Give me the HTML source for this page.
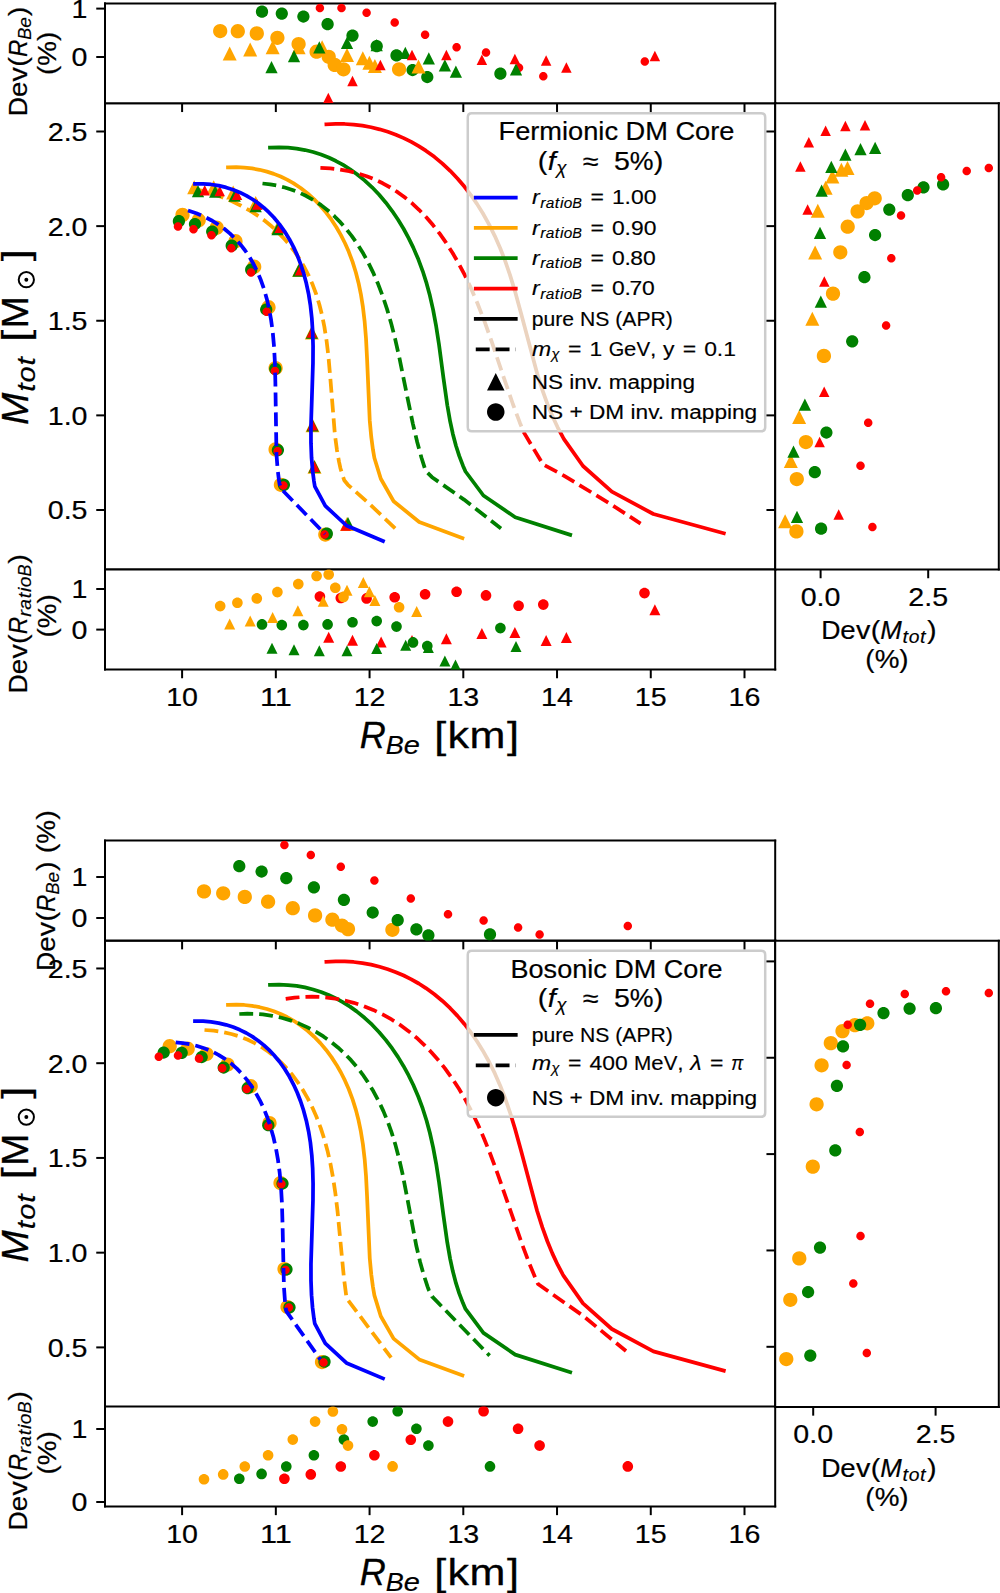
<!DOCTYPE html>
<html><head><meta charset="utf-8"><title>figure</title>
<style>html,body{margin:0;padding:0;background:#fff;overflow:hidden}svg{display:block}</style>
</head><body>
<svg width="1000" height="1593" viewBox="0 0 400 637.2" version="1.1">
 <defs>
  <style type="text/css">*{stroke-linejoin: round; stroke-linecap: butt}</style>
 </defs>
 <g id="figure_1">
  <g id="patch_1">
   <path d="M 0 637.2 
L 400 637.2 
L 400 0 
L 0 0 
z
" style="fill: #ffffff"/>
  </g>
  <g id="axes_1">
   <g id="patch_2">
    <path d="M 42 227.8 
L 310.08 227.8 
L 310.08 41.32 
L 42 41.32 
z
" style="fill: #ffffff"/>
   </g>
   <g id="matplotlib.axis_1">
    <g id="xtick_1">
     <g id="line2d_1">
      <defs>
       <path id="m1504cfccaf" d="M 0 0 
L 0 3.5 
" style="stroke: #000000; stroke-width: 0.8"/>
      </defs>
      <g>
       <use href="#m1504cfccaf" x="72.84" y="227.8" style="stroke: #000000; stroke-width: 0.8"/>
      </g>
     </g>
    </g>
    <g id="xtick_2">
     <g id="line2d_2">
      <g>
       <use href="#m1504cfccaf" x="110.333333" y="227.8" style="stroke: #000000; stroke-width: 0.8"/>
      </g>
     </g>
    </g>
    <g id="xtick_3">
     <g id="line2d_3">
      <g>
       <use href="#m1504cfccaf" x="147.826667" y="227.8" style="stroke: #000000; stroke-width: 0.8"/>
      </g>
     </g>
    </g>
    <g id="xtick_4">
     <g id="line2d_4">
      <g>
       <use href="#m1504cfccaf" x="185.32" y="227.8" style="stroke: #000000; stroke-width: 0.8"/>
      </g>
     </g>
    </g>
    <g id="xtick_5">
     <g id="line2d_5">
      <g>
       <use href="#m1504cfccaf" x="222.813333" y="227.8" style="stroke: #000000; stroke-width: 0.8"/>
      </g>
     </g>
    </g>
    <g id="xtick_6">
     <g id="line2d_6">
      <g>
       <use href="#m1504cfccaf" x="260.306667" y="227.8" style="stroke: #000000; stroke-width: 0.8"/>
      </g>
     </g>
    </g>
    <g id="xtick_7">
     <g id="line2d_7">
      <g>
       <use href="#m1504cfccaf" x="297.8" y="227.8" style="stroke: #000000; stroke-width: 0.8"/>
      </g>
     </g>
    </g>
   </g>
   <g id="matplotlib.axis_2">
    <g id="ytick_1">
     <g id="line2d_8">
      <defs>
       <path id="m5d545ce8f8" d="M 0 0 
L -3.5 0 
" style="stroke: #000000; stroke-width: 0.8"/>
      </defs>
      <g>
       <use href="#m5d545ce8f8" x="42" y="204" style="stroke: #000000; stroke-width: 0.8"/>
      </g>
     </g>
     <g id="text_1">
      <text style="font-size: 10px; font-family: 'Liberation Sans', sans-serif; stroke: #000; stroke-width: 0.080px; text-anchor: end" x="35" y="207.799219" transform="rotate(-0 35 207.799219)" textLength="15.903" lengthAdjust="spacingAndGlyphs">0.5</text>
     </g>
    </g>
    <g id="ytick_2">
     <g id="line2d_9">
      <g>
       <use href="#m5d545ce8f8" x="42" y="166.15" style="stroke: #000000; stroke-width: 0.8"/>
      </g>
     </g>
     <g id="text_2">
      <text style="font-size: 10px; font-family: 'Liberation Sans', sans-serif; stroke: #000; stroke-width: 0.080px; text-anchor: end" x="35" y="169.949219" transform="rotate(-0 35 169.949219)" textLength="15.903" lengthAdjust="spacingAndGlyphs">1.0</text>
     </g>
    </g>
    <g id="ytick_3">
     <g id="line2d_10">
      <g>
       <use href="#m5d545ce8f8" x="42" y="128.3" style="stroke: #000000; stroke-width: 0.8"/>
      </g>
     </g>
     <g id="text_3">
      <text style="font-size: 10px; font-family: 'Liberation Sans', sans-serif; stroke: #000; stroke-width: 0.080px; text-anchor: end" x="35" y="132.099219" transform="rotate(-0 35 132.099219)" textLength="15.903" lengthAdjust="spacingAndGlyphs">1.5</text>
     </g>
    </g>
    <g id="ytick_4">
     <g id="line2d_11">
      <g>
       <use href="#m5d545ce8f8" x="42" y="90.45" style="stroke: #000000; stroke-width: 0.8"/>
      </g>
     </g>
     <g id="text_4">
      <text style="font-size: 10px; font-family: 'Liberation Sans', sans-serif; stroke: #000; stroke-width: 0.080px; text-anchor: end" x="35" y="94.249219" transform="rotate(-0 35 94.249219)" textLength="15.903" lengthAdjust="spacingAndGlyphs">2.0</text>
     </g>
    </g>
    <g id="ytick_5">
     <g id="line2d_12">
      <g>
       <use href="#m5d545ce8f8" x="42" y="52.6" style="stroke: #000000; stroke-width: 0.8"/>
      </g>
     </g>
     <g id="text_5">
      <text style="font-size: 10px; font-family: 'Liberation Sans', sans-serif; stroke: #000; stroke-width: 0.080px; text-anchor: end" x="35" y="56.399219" transform="rotate(-0 35 56.399219)" textLength="15.903" lengthAdjust="spacingAndGlyphs">2.5</text>
     </g>
    </g>
    <g id="text_6">
     <g transform="translate(11.977344 170.035) rotate(-90)">
      <text>
       <tspan x="0" y="-0.609375" style="font-size: 15px; font-family: 'Liberation Sans', sans-serif; stroke: #000; stroke-width: 0.120px; font-style: italic" textLength="12.942" lengthAdjust="spacingAndGlyphs">M</tspan>
       <tspan x="13.3230" y="1.851562" style="font-size: 10.5px; font-family: 'Liberation Sans', sans-serif; stroke: #000; stroke-width: 0.084px; font-style: italic" textLength="3.355" lengthAdjust="spacingAndGlyphs">t</tspan>
       <tspan x="17.058838" y="1.851562" style="font-size: 10.5px; font-family: 'Liberation Sans', sans-serif; stroke: #000; stroke-width: 0.084px; font-style: italic" textLength="6.424" lengthAdjust="spacingAndGlyphs">o</tspan>
       <tspan x="23.8640" y="1.851562" style="font-size: 10.5px; font-family: 'Liberation Sans', sans-serif; stroke: #000; stroke-width: 0.084px; font-style: italic" textLength="3.355" lengthAdjust="spacingAndGlyphs">t</tspan>
       
       <tspan x="33.3079" y="-0.609375" style="font-size: 15px; font-family: 'Liberation Sans', sans-serif; stroke: #000; stroke-width: 0.120px" textLength="4.793" lengthAdjust="spacingAndGlyphs">[</tspan>
       <tspan x="38.630127" y="-0.609375" style="font-size: 15px; font-family: 'Liberation Sans', sans-serif; stroke: #000; stroke-width: 0.120px" textLength="12.942" lengthAdjust="spacingAndGlyphs">M</tspan>
       <tspan x="65.5447" y="-0.609375" style="font-size: 15px; font-family: 'Liberation Sans', sans-serif; stroke: #000; stroke-width: 0.120px" textLength="4.793" lengthAdjust="spacingAndGlyphs">]</tspan>
       </text><circle cx="58.161" cy="-1.445" r="3.050" style="fill:none;stroke:#000;stroke-width:0.787"/><circle cx="58.161" cy="-1.445" r="0.787" style="fill:#000"/>
     </g>
    </g>
   </g>
   <g id="line2d_13">
    <path d="M 91.2 66.96 
L 94.516989 66.892801 
L 97.731461 67.035666 
L 100.841747 67.380417 
L 103.847758 67.919322 
L 106.749406 68.644653 
L 109.546603 69.54868 
L 112.239261 70.623671 
L 114.827292 71.861898 
L 117.310609 73.255629 
L 120.267366 75.204697 
L 123.060198 77.369565 
L 125.688932 79.735136 
L 128.153397 82.286312 
L 130.45342 85.007996 
L 132.588832 87.885089 
L 134.559459 90.902495 
L 136.365129 94.045114 
L 138.005672 97.29785 
L 139.480916 100.645604 
L 141.032771 104.767077 
L 142.347706 108.978674 
L 143.441529 113.265274 
L 144.337497 117.616827 
L 145.163837 122.762384 
L 145.864838 128.714217 
L 146.409219 135.472453 
L 146.834213 143.774721 
L 147.907551 168.365887 
L 148.508276 174.83572 
L 149.165514 179.755264 
L 149.76 183.2 
L 152.32 191.52 
L 157.44 200.48 
L 167.68 208.8 
L 184.96 215.2 
L 184.96 215.2 
" clip-path="url(#p4665e097e5)" style="fill: none; stroke: #ffa500; stroke-width: 1.5; stroke-linecap: square"/>
   </g>
   <g id="line2d_14">
    <path d="M 76.4 75.2 
L 80.549455 76.180734 
L 84.654212 77.38028 
L 88.690091 78.799094 
L 92.63376 80.436771 
L 96.461887 82.292905 
L 100.151141 84.36709 
L 103.102603 86.261853 
L 105.927921 88.307524 
L 108.613621 90.503847 
L 111.149915 92.847802 
L 113.534262 95.330937 
L 115.764964 97.944165 
L 117.840322 100.678401 
L 119.75864 103.524558 
L 121.518219 106.473551 
L 123.41779 110.135292 
L 125.083399 113.916331 
L 126.51571 117.801561 
L 127.732444 121.778694 
L 128.756377 125.836277 
L 129.737668 130.656521 
L 130.622159 136.257033 
L 131.379584 142.642023 
L 132.071893 150.512842 
L 133.960529 173.88699 
L 134.778658 180.022664 
L 135.601215 184.67551 
L 136.16 187.28 
L 137.68 192.12 
L 139.16 193.92 
L 148 201.76 
L 159.36 212.64 
L 159.36 212.64 
" clip-path="url(#p4665e097e5)" style="fill: none; stroke-dasharray: 5.55,2.4; stroke-dashoffset: 0; stroke: #ffa500; stroke-width: 1.5"/>
   </g>
   <g id="line2d_15">
    <path d="M 108 59 
L 111.646294 58.907071 
L 115.195434 59.051491 
L 118.646 59.424375 
L 121.997603 60.016974 
L 125.249852 60.820539 
L 128.402358 61.826318 
L 131.45473 63.025564 
L 134.406578 64.409527 
L 137.257514 65.969456 
L 140.007146 67.696603 
L 142.655085 69.582217 
L 145.821408 72.148751 
L 148.827465 74.93213 
L 151.672494 77.915266 
L 154.355733 81.08107 
L 156.876421 84.412452 
L 159.233796 87.892324 
L 161.427096 91.503596 
L 163.45556 95.22918 
L 165.318426 99.051986 
L 167.334205 103.743626 
L 169.109109 108.521129 
L 170.643348 113.356019 
L 171.95594 118.232861 
L 173.249468 123.966673 
L 174.476268 130.565228 
L 175.626221 138.028405 
L 177.394054 151.334287 
L 178.923231 162.109322 
L 180.078001 168.686258 
L 181.136446 173.570333 
L 182.417033 178.39791 
L 183.691056 182.368112 
L 185.184949 186.282101 
L 186.2 188.6 
L 193.36 198.2 
L 206.08 206.88 
L 228.08 213.92 
L 228.08 213.92 
" clip-path="url(#p4665e097e5)" style="fill: none; stroke: #008000; stroke-width: 1.5; stroke-linecap: square"/>
   </g>
   <g id="line2d_16">
    <path d="M 105 73.4 
L 108.084751 73.75393 
L 111.061561 74.288235 
L 113.931558 74.995605 
L 116.696446 75.868774 
L 119.357929 76.900476 
L 122.541966 78.401974 
L 125.570425 80.125637 
L 128.446634 82.057275 
L 131.173921 84.182698 
L 133.755616 86.487716 
L 136.195047 88.958138 
L 138.495542 91.579773 
L 140.66043 94.338431 
L 143.083982 97.809711 
L 145.322804 101.433348 
L 147.382648 105.184823 
L 149.269267 109.039612 
L 151.259425 113.635396 
L 153.039113 118.314565 
L 154.846508 123.749503 
L 156.447422 129.261772 
L 158.047319 135.534979 
L 159.787102 143.272557 
L 162.219591 155.288248 
L 165.107118 169.323258 
L 166.902597 176.908064 
L 168.567052 183.004195 
L 170.24 188.32 
L 172.8 190.88 
L 185.6 199.84 
L 200.4 211.36 
L 200.4 211.36 
" clip-path="url(#p4665e097e5)" style="fill: none; stroke-dasharray: 5.55,2.4; stroke-dashoffset: 0; stroke: #008000; stroke-width: 1.5"/>
   </g>
   <g id="under_solid_0">
    <path d="M 130.56 49.76 
L 134.251221 49.572934 
L 137.891013 49.599864 
L 141.473183 49.834877 
L 144.992948 50.271593 
L 148.445525 50.903632 
L 151.82613 51.724617 
L 155.129979 52.728167 
L 158.35229 53.907903 
L 161.488278 55.257448 
L 164.53316 56.770421 
L 167.482152 58.440443 
L 170.330472 60.261136 
L 173.742528 62.73908 
L 176.987893 65.428787 
L 180.068461 68.315937 
L 182.986206 71.386194 
L 185.743103 74.62522 
L 188.341127 78.018681 
L 190.782254 81.552241 
L 193.068458 85.211564 
L 195.610185 89.748573 
L 197.935079 94.421264 
L 200.046554 99.204864 
L 201.952362 104.076207 
L 203.951737 109.848863 
L 206.002988 116.536303 
L 208.326654 124.981129 
L 214.856832 149.422019 
L 216.944472 155.997985 
L 218.985848 161.641973 
L 220.935206 166.379903 
L 223.102326 171.010641 
L 225.097506 174.777389 
L 225.52 175.52 
L 233.2 186.4 
L 244.72 196.64 
L 261.36 205.6 
L 289.52 213.28 
L 289.52 213.28 
" clip-path="url(#p4665e097e5)" style="fill: none; stroke: #ff0000; stroke-width: 1.5; stroke-linecap: square"/>
   </g>
   <g id="under_dashed_0">
    <path d="M 128.16 67.16 
L 132.138564 67.359959 
L 135.974845 67.802354 
L 139.670512 68.477303 
L 143.228599 69.3752 
L 146.65214 70.486441 
L 149.944168 71.801418 
L 153.107718 73.310527 
L 156.145821 75.004161 
L 159.061512 76.872715 
L 161.857825 78.906583 
L 164.537792 81.09616 
L 167.604449 83.915662 
L 170.51318 86.928953 
L 173.269225 90.119434 
L 175.877828 93.470506 
L 178.34423 96.965572 
L 181.048966 101.202994 
L 183.575611 105.587456 
L 185.932487 110.092598 
L 188.429489 115.355916 
L 191.016262 121.389461 
L 193.665762 128.197461 
L 196.615489 136.455631 
L 201.245991 150.249964 
L 205.211939 161.794364 
L 207.94193 169.074547 
L 209.52 172.96 
L 217.2 185.76 
L 225.52 190.24 
L 243.44 201.12 
L 256.24 209.44 
L 256.24 209.44 
" clip-path="url(#p4665e097e5)" style="fill: none; stroke-dasharray: 5.55,2.4; stroke-dashoffset: 0; stroke: #ff0000; stroke-width: 1.5"/>
   </g>
   <g id="patch_3">
    <path d="M 42 227.8 
L 42 41.32 
" style="fill: none; stroke: #000000; stroke-width: 0.8; stroke-linejoin: miter; stroke-linecap: square"/>
   </g>
   <g id="patch_4">
    <path d="M 310.08 227.8 
L 310.08 41.32 
" style="fill: none; stroke: #000000; stroke-width: 0.8; stroke-linejoin: miter; stroke-linecap: square"/>
   </g>
   <g id="patch_5">
    <path d="M 42 227.8 
L 310.08 227.8 
" style="fill: none; stroke: #000000; stroke-width: 0.8; stroke-linejoin: miter; stroke-linecap: square"/>
   </g>
   <g id="patch_6">
    <path d="M 42 41.32 
L 310.08 41.32 
" style="fill: none; stroke: #000000; stroke-width: 0.8; stroke-linejoin: miter; stroke-linecap: square"/>
   </g>
   <g id="line2d_17">
    <defs>
     <path id="mb5287e0153" d="M 0 2.85 
C 0.755829 2.85 1.480803 2.549706 2.015254 2.015254 
C 2.549706 1.480803 2.85 0.755829 2.85 0 
C 2.85 -0.755829 2.549706 -1.480803 2.015254 -2.015254 
C 1.480803 -2.549706 0.755829 -2.85 0 -2.85 
C -0.755829 -2.85 -1.480803 -2.549706 -2.015254 -2.015254 
C -2.549706 -1.480803 -2.85 -0.755829 -2.85 0 
C -2.85 0.755829 -2.549706 1.480803 -2.015254 2.015254 
C -1.480803 2.549706 -0.755829 2.85 0 2.85 
z
" style="stroke: #000000; stroke-opacity: 0"/>
    </defs>
    <g clip-path="url(#p4665e097e5)">
     <use href="#mb5287e0153" x="73" y="85.96" style="fill: #ffa500; stroke: #000000; stroke-opacity: 0"/>
     <use href="#mb5287e0153" x="79.48" y="88.08" style="fill: #ffa500; stroke: #000000; stroke-opacity: 0"/>
     <use href="#mb5287e0153" x="86.68" y="91.08" style="fill: #ffa500; stroke: #000000; stroke-opacity: 0"/>
     <use href="#mb5287e0153" x="94.2" y="96.48" style="fill: #ffa500; stroke: #000000; stroke-opacity: 0"/>
     <use href="#mb5287e0153" x="101.68" y="106.68" style="fill: #ffa500; stroke: #000000; stroke-opacity: 0"/>
     <use href="#mb5287e0153" x="107.4" y="122.88" style="fill: #ffa500; stroke: #000000; stroke-opacity: 0"/>
     <use href="#mb5287e0153" x="110.24" y="147.2" style="fill: #ffa500; stroke: #000000; stroke-opacity: 0"/>
     <use href="#mb5287e0153" x="110.24" y="179.76" style="fill: #ffa500; stroke: #000000; stroke-opacity: 0"/>
     <use href="#mb5287e0153" x="112.36" y="193.92" style="fill: #ffa500; stroke: #000000; stroke-opacity: 0"/>
     <use href="#mb5287e0153" x="130.12" y="213.8" style="fill: #ffa500; stroke: #000000; stroke-opacity: 0"/>
    </g>
   </g>
   <g id="line2d_18">
    <defs>
     <path id="mbd43150556" d="M 0 2.45 
C 0.649748 2.45 1.272971 2.191853 1.732412 1.732412 
C 2.191853 1.272971 2.45 0.649748 2.45 0 
C 2.45 -0.649748 2.191853 -1.272971 1.732412 -1.732412 
C 1.272971 -2.191853 0.649748 -2.45 0 -2.45 
C -0.649748 -2.45 -1.272971 -2.191853 -1.732412 -1.732412 
C -2.191853 -1.272971 -2.45 -0.649748 -2.45 0 
C -2.45 0.649748 -2.191853 1.272971 -1.732412 1.732412 
C -1.272971 2.191853 -0.649748 2.45 0 2.45 
z
" style="stroke: #000000; stroke-opacity: 0"/>
    </defs>
    <g clip-path="url(#p4665e097e5)">
     <use href="#mbd43150556" x="71.56" y="88.48" style="fill: #008000; stroke: #000000; stroke-opacity: 0"/>
     <use href="#mbd43150556" x="78" y="89.6" style="fill: #008000; stroke: #000000; stroke-opacity: 0"/>
     <use href="#mbd43150556" x="84.88" y="92.6" style="fill: #008000; stroke: #000000; stroke-opacity: 0"/>
     <use href="#mbd43150556" x="92.68" y="98.28" style="fill: #008000; stroke: #000000; stroke-opacity: 0"/>
     <use href="#mbd43150556" x="100.48" y="107.88" style="fill: #008000; stroke: #000000; stroke-opacity: 0"/>
     <use href="#mbd43150556" x="106.48" y="123.8" style="fill: #008000; stroke: #000000; stroke-opacity: 0"/>
     <use href="#mbd43150556" x="110.12" y="147.52" style="fill: #008000; stroke: #000000; stroke-opacity: 0"/>
     <use href="#mbd43150556" x="111.16" y="180.04" style="fill: #008000; stroke: #000000; stroke-opacity: 0"/>
     <use href="#mbd43150556" x="113.56" y="193.92" style="fill: #008000; stroke: #000000; stroke-opacity: 0"/>
     <use href="#mbd43150556" x="130.72" y="213.48" style="fill: #008000; stroke: #000000; stroke-opacity: 0"/>
    </g>
   </g>
   <g id="line2d_19">
    <defs>
     <path id="m608933609a" d="M 0 1.7 
C 0.450845 1.7 0.883286 1.520877 1.202082 1.202082 
C 1.520877 0.883286 1.7 0.450845 1.7 0 
C 1.7 -0.450845 1.520877 -0.883286 1.202082 -1.202082 
C 0.883286 -1.520877 0.450845 -1.7 0 -1.7 
C -0.450845 -1.7 -0.883286 -1.520877 -1.202082 -1.202082 
C -1.520877 -0.883286 -1.7 -0.450845 -1.7 0 
C -1.7 0.450845 -1.520877 0.883286 -1.202082 1.202082 
C -0.883286 1.520877 -0.450845 1.7 0 1.7 
z
" style="stroke: #000000; stroke-opacity: 0"/>
    </defs>
    <g clip-path="url(#p4665e097e5)">
     <use href="#m608933609a" x="71.2" y="90.64" style="fill: #ff0000; stroke: #000000; stroke-opacity: 0"/>
     <use href="#m608933609a" x="77.4" y="91.68" style="fill: #ff0000; stroke: #000000; stroke-opacity: 0"/>
     <use href="#m608933609a" x="84.6" y="94.08" style="fill: #ff0000; stroke: #000000; stroke-opacity: 0"/>
     <use href="#m608933609a" x="92.52" y="99.32" style="fill: #ff0000; stroke: #000000; stroke-opacity: 0"/>
     <use href="#m608933609a" x="100.4" y="108.96" style="fill: #ff0000; stroke: #000000; stroke-opacity: 0"/>
     <use href="#m608933609a" x="106.68" y="124.68" style="fill: #ff0000; stroke: #000000; stroke-opacity: 0"/>
     <use href="#m608933609a" x="109.96" y="148.4" style="fill: #ff0000; stroke: #000000; stroke-opacity: 0"/>
     <use href="#m608933609a" x="111.04" y="180.48" style="fill: #ff0000; stroke: #000000; stroke-opacity: 0"/>
     <use href="#m608933609a" x="113.36" y="194.2" style="fill: #ff0000; stroke: #000000; stroke-opacity: 0"/>
     <use href="#m608933609a" x="129.84" y="213.8" style="fill: #ff0000; stroke: #000000; stroke-opacity: 0"/>
    </g>
   </g>
   <g id="line2d_20">
    <defs>
     <path id="m29fc046956" d="M 0 -2.8 
L -2.8 2.8 
L 2.8 2.8 
z
" style="stroke: #000000; stroke-opacity: 0; stroke-linejoin: miter"/>
    </defs>
    <g clip-path="url(#p4665e097e5)">
     <use href="#m29fc046956" x="77.68" y="74.88" style="fill: #ffa500; stroke: #000000; stroke-opacity: 0; stroke-linejoin: miter"/>
     <use href="#m29fc046956" x="85.48" y="74.88" style="fill: #ffa500; stroke: #000000; stroke-opacity: 0; stroke-linejoin: miter"/>
     <use href="#m29fc046956" x="93.28" y="77" style="fill: #ffa500; stroke: #000000; stroke-opacity: 0; stroke-linejoin: miter"/>
     <use href="#m29fc046956" x="102.28" y="81.2" style="fill: #ffa500; stroke: #000000; stroke-opacity: 0; stroke-linejoin: miter"/>
     <use href="#m29fc046956" x="111.28" y="90.8" style="fill: #ffa500; stroke: #000000; stroke-opacity: 0; stroke-linejoin: miter"/>
     <use href="#m29fc046956" x="119.68" y="107.88" style="fill: #ffa500; stroke: #000000; stroke-opacity: 0; stroke-linejoin: miter"/>
     <use href="#m29fc046956" x="124.72" y="133.04" style="fill: #ffa500; stroke: #000000; stroke-opacity: 0; stroke-linejoin: miter"/>
     <use href="#m29fc046956" x="125" y="170.12" style="fill: #ffa500; stroke: #000000; stroke-opacity: 0; stroke-linejoin: miter"/>
     <use href="#m29fc046956" x="125.8" y="186.68" style="fill: #ffa500; stroke: #000000; stroke-opacity: 0; stroke-linejoin: miter"/>
     <use href="#m29fc046956" x="138.8" y="209.6" style="fill: #ffa500; stroke: #000000; stroke-opacity: 0; stroke-linejoin: miter"/>
    </g>
   </g>
   <g id="line2d_21">
    <defs>
     <path id="mc2b58c1543" d="M 0 -2.45 
L -2.45 2.45 
L 2.45 2.45 
z
" style="stroke: #000000; stroke-opacity: 0; stroke-linejoin: miter"/>
    </defs>
    <g clip-path="url(#p4665e097e5)">
     <use href="#mc2b58c1543" x="79.2" y="76.4" style="fill: #008000; stroke: #000000; stroke-opacity: 0; stroke-linejoin: miter"/>
     <use href="#mc2b58c1543" x="86.08" y="76.68" style="fill: #008000; stroke: #000000; stroke-opacity: 0; stroke-linejoin: miter"/>
     <use href="#mc2b58c1543" x="93.88" y="78.2" style="fill: #008000; stroke: #000000; stroke-opacity: 0; stroke-linejoin: miter"/>
     <use href="#mc2b58c1543" x="102.28" y="82.4" style="fill: #008000; stroke: #000000; stroke-opacity: 0; stroke-linejoin: miter"/>
     <use href="#mc2b58c1543" x="111" y="91.68" style="fill: #008000; stroke: #000000; stroke-opacity: 0; stroke-linejoin: miter"/>
     <use href="#mc2b58c1543" x="119.4" y="108.2" style="fill: #008000; stroke: #000000; stroke-opacity: 0; stroke-linejoin: miter"/>
     <use href="#mc2b58c1543" x="124.72" y="133.04" style="fill: #008000; stroke: #000000; stroke-opacity: 0; stroke-linejoin: miter"/>
     <use href="#mc2b58c1543" x="125" y="170.12" style="fill: #008000; stroke: #000000; stroke-opacity: 0; stroke-linejoin: miter"/>
     <use href="#mc2b58c1543" x="125.8" y="186.68" style="fill: #008000; stroke: #000000; stroke-opacity: 0; stroke-linejoin: miter"/>
     <use href="#mc2b58c1543" x="139.2" y="209.28" style="fill: #008000; stroke: #000000; stroke-opacity: 0; stroke-linejoin: miter"/>
    </g>
   </g>
   <g id="line2d_22">
    <defs>
     <path id="m9a5f237e75" d="M 0 -2.1 
L -2.1 2.1 
L 2.1 2.1 
z
" style="stroke: #000000; stroke-opacity: 0; stroke-linejoin: miter"/>
    </defs>
    <g clip-path="url(#p4665e097e5)">
     <use href="#m9a5f237e75" x="81.88" y="76.08" style="fill: #ff0000; stroke: #000000; stroke-opacity: 0; stroke-linejoin: miter"/>
     <use href="#m9a5f237e75" x="87.88" y="76.4" style="fill: #ff0000; stroke: #000000; stroke-opacity: 0; stroke-linejoin: miter"/>
     <use href="#m9a5f237e75" x="94.8" y="77.88" style="fill: #ff0000; stroke: #000000; stroke-opacity: 0; stroke-linejoin: miter"/>
     <use href="#m9a5f237e75" x="102.88" y="81.8" style="fill: #ff0000; stroke: #000000; stroke-opacity: 0; stroke-linejoin: miter"/>
     <use href="#m9a5f237e75" x="111.88" y="91.08" style="fill: #ff0000; stroke: #000000; stroke-opacity: 0; stroke-linejoin: miter"/>
     <use href="#m9a5f237e75" x="120" y="108.08" style="fill: #ff0000; stroke: #000000; stroke-opacity: 0; stroke-linejoin: miter"/>
     <use href="#m9a5f237e75" x="124.72" y="133.04" style="fill: #ff0000; stroke: #000000; stroke-opacity: 0; stroke-linejoin: miter"/>
     <use href="#m9a5f237e75" x="125" y="170.12" style="fill: #ff0000; stroke: #000000; stroke-opacity: 0; stroke-linejoin: miter"/>
     <use href="#m9a5f237e75" x="125.8" y="186.68" style="fill: #ff0000; stroke: #000000; stroke-opacity: 0; stroke-linejoin: miter"/>
     <use href="#m9a5f237e75" x="138.28" y="210.2" style="fill: #ff0000; stroke: #000000; stroke-opacity: 0; stroke-linejoin: miter"/>
    </g>
   </g>
   <g id="line2d_23">
    <path d="M 78 73.52 
L 81.269992 73.537542 
L 84.43075 73.792165 
L 87.478659 74.272734 
L 90.412032 74.968706 
L 93.229182 75.869538 
L 95.928423 76.964687 
L 98.508068 78.243609 
L 100.966429 79.695762 
L 103.301821 81.310602 
L 105.512556 83.077585 
L 107.596948 84.98617 
L 109.55331 87.025812 
L 111.816422 89.743723 
L 113.878772 92.631654 
L 115.745936 95.672941 
L 117.42361 98.850971 
L 118.917493 102.149135 
L 120.233281 105.550819 
L 121.376673 109.039414 
L 122.529201 113.31706 
L 123.451529 117.667233 
L 124.154666 122.062963 
L 124.725828 127.232531 
L 125.067061 132.438072 
L 125.227275 138.420065 
L 125.186585 145.175983 
L 124.883112 154.946909 
L 124.384176 170.630801 
L 124.394766 177.265223 
L 124.618584 183.096522 
L 125.029384 188.137242 
L 125.573309 192.405073 
L 125.92 194.52 
L 130.12 202.36 
L 138.56 210.2 
L 153.2 216.4 
L 153.2 216.4 
" clip-path="url(#p4665e097e5)" style="fill: none; stroke: #0000ff; stroke-width: 1.5; stroke-linecap: square"/>
   </g>
   <g id="line2d_24">
    <path d="M 75.2 84.2 
L 78.503573 85.314723 
L 81.600213 86.614027 
L 84.494917 88.087558 
L 87.193946 89.726459 
L 89.70356 91.521872 
L 92.030021 93.464941 
L 94.179589 95.546808 
L 96.158526 97.758617 
L 97.973092 100.091511 
L 99.629549 102.536631 
L 101.417408 105.606445 
L 102.997424 108.809807 
L 104.380416 112.131412 
L 105.577204 115.555955 
L 106.752563 119.660971 
L 107.708281 123.864663 
L 108.466967 128.15332 
L 109.122291 133.142092 
L 109.63061 138.842883 
L 109.968485 145.254663 
L 110.150131 153.005149 
L 110.578278 181.536997 
L 111.031171 187.53166 
L 111.588581 192.179858 
L 111.76 193.32 
L 112.64 195.72 
L 130 213.6 
L 130 213.6 
" clip-path="url(#p4665e097e5)" style="fill: none; stroke-dasharray: 5.55,2.4; stroke-dashoffset: 0; stroke: #0000ff; stroke-width: 1.5"/>
   </g>
   <g id="legend_1">
    <g id="legframe_0">
     <path d="M 188.70625 172.486375 
L 304.48 172.486375 
Q 306.08 172.486375 306.08 170.886375 
L 306.08 46.92 
Q 306.08 45.32 304.48 45.32 
L 188.70625 45.32 
Q 187.10625 45.32 187.10625 46.92 
L 187.10625 170.886375 
Q 187.10625 172.486375 188.70625 172.486375 
z
" style="fill: #ffffff; stroke: #cccccc; stroke-linejoin: miter"/>
    </g>
<defs><clipPath id="legclip_0"><path d="M 188.70625 172.486375 
L 304.48 172.486375 
Q 306.08 172.486375 306.08 170.886375 
L 306.08 46.92 
Q 306.08 45.32 304.48 45.32 
L 188.70625 45.32 
Q 187.10625 45.32 187.10625 46.92 
L 187.10625 170.886375 
Q 187.10625 172.486375 188.70625 172.486375 
z
"/></clipPath></defs>
<path d="M 130.56 49.76 
L 134.251221 49.572934 
L 137.891013 49.599864 
L 141.473183 49.834877 
L 144.992948 50.271593 
L 148.445525 50.903632 
L 151.82613 51.724617 
L 155.129979 52.728167 
L 158.35229 53.907903 
L 161.488278 55.257448 
L 164.53316 56.770421 
L 167.482152 58.440443 
L 170.330472 60.261136 
L 173.742528 62.73908 
L 176.987893 65.428787 
L 180.068461 68.315937 
L 182.986206 71.386194 
L 185.743103 74.62522 
L 188.341127 78.018681 
L 190.782254 81.552241 
L 193.068458 85.211564 
L 195.610185 89.748573 
L 197.935079 94.421264 
L 200.046554 99.204864 
L 201.952362 104.076207 
L 203.951737 109.848863 
L 206.002988 116.536303 
L 208.326654 124.981129 
L 214.856832 149.422019 
L 216.944472 155.997985 
L 218.985848 161.641973 
L 220.935206 166.379903 
L 223.102326 171.010641 
L 225.097506 174.777389 
L 225.52 175.52 
L 233.2 186.4 
L 244.72 196.64 
L 261.36 205.6 
L 289.52 213.28 
L 289.52 213.28 
" clip-path="url(#legclip_0)" style="fill: none; stroke: #ebd3bf; stroke-width: 1.5; stroke-linecap: square"/>
<path d="M 128.16 67.16 
L 132.138564 67.359959 
L 135.974845 67.802354 
L 139.670512 68.477303 
L 143.228599 69.3752 
L 146.65214 70.486441 
L 149.944168 71.801418 
L 153.107718 73.310527 
L 156.145821 75.004161 
L 159.061512 76.872715 
L 161.857825 78.906583 
L 164.537792 81.09616 
L 167.604449 83.915662 
L 170.51318 86.928953 
L 173.269225 90.119434 
L 175.877828 93.470506 
L 178.34423 96.965572 
L 181.048966 101.202994 
L 183.575611 105.587456 
L 185.932487 110.092598 
L 188.429489 115.355916 
L 191.016262 121.389461 
L 193.665762 128.197461 
L 196.615489 136.455631 
L 201.245991 150.249964 
L 205.211939 161.794364 
L 207.94193 169.074547 
L 209.52 172.96 
L 217.2 185.76 
L 225.52 190.24 
L 243.44 201.12 
L 256.24 209.44 
L 256.24 209.44 
" clip-path="url(#legclip_0)" style="fill: none; stroke-dasharray: 5.55,2.4; stroke-dashoffset: 0; stroke: #ebd3bf; stroke-width: 1.5"/>

    <g id="text_7">
     <text style="font-size: 10px; font-family: 'Liberation Sans', sans-serif; stroke: #000; stroke-width: 0.080px" transform="translate(199.409531 56.118438)" textLength="94.375" lengthAdjust="spacingAndGlyphs">Fermionic DM Core</text>
     <g transform="translate(215.043125 68.230125)">
      <text>
       <tspan x="0.0359" y="-0.40625" style="font-size: 10px; font-family: 'Liberation Sans', sans-serif; stroke: #000; stroke-width: 0.080px" textLength="3.830" lengthAdjust="spacingAndGlyphs">(</tspan>
       <tspan x="18.0669" y="-0.40625" style="font-size: 10px; font-family: 'Liberation Sans', sans-serif; stroke: #000; stroke-width: 0.080px" textLength="6.312" lengthAdjust="spacingAndGlyphs">≈</tspan>
       
       <tspan x="30.53903" y="-0.40625" style="font-size: 10px; font-family: 'Liberation Sans', sans-serif; stroke: #000; stroke-width: 0.080px" textLength="6.362" lengthAdjust="spacingAndGlyphs">5</tspan>
       <tspan x="36.901335" y="-0.40625" style="font-size: 10px; font-family: 'Liberation Sans', sans-serif; stroke: #000; stroke-width: 0.080px" textLength="9.502" lengthAdjust="spacingAndGlyphs">%</tspan>
       <tspan x="46.4392" y="-0.40625" style="font-size: 10px; font-family: 'Liberation Sans', sans-serif; stroke: #000; stroke-width: 0.080px" textLength="3.830" lengthAdjust="spacingAndGlyphs">)</tspan>
       
       
       
       
       <tspan x="4.0641" y="-0.40625" style="font-size: 10px; font-family: 'Liberation Sans', sans-serif; stroke: #000; stroke-width: 0.080px; font-style: italic" textLength="3.195" lengthAdjust="spacingAndGlyphs">f</tspan>
       <tspan x="7.421875" y="1.234375" style="font-size: 7px; font-family: 'Liberation Sans', sans-serif; stroke: #000; stroke-width: 0.056px; font-style: italic" textLength="4.143" lengthAdjust="spacingAndGlyphs">χ</tspan>
      </text>
     </g>
    </g>
    <g id="line2d_25">
     <path d="M 190.30625 79.008875 
L 198.30625 79.008875 
L 206.30625 79.008875 
" style="fill: none; stroke: #0000ff; stroke-width: 1.5; stroke-linecap: square"/>
    </g>
    <g id="text_8">
     <g transform="translate(212.70625 81.808875)">
      <text>
       <tspan x="0.1127" y="-0.0625" style="font-size: 8px; font-family: 'Liberation Sans', sans-serif; stroke: #000; stroke-width: 0.064px; font-style: italic" textLength="3.064" lengthAdjust="spacingAndGlyphs">r</tspan>
       <tspan x="3.3679" y="1.25" style="font-size: 5.6px; font-family: 'Liberation Sans', sans-serif; stroke: #000; stroke-width: 0.045px; font-style: italic" textLength="2.145" lengthAdjust="spacingAndGlyphs">r</tspan>
       <tspan x="5.591406" y="1.25" style="font-size: 5.6px; font-family: 'Liberation Sans', sans-serif; stroke: #000; stroke-width: 0.045px; font-style: italic" textLength="3.432" lengthAdjust="spacingAndGlyphs">a</tspan>
       <tspan x="9.2263" y="1.25" style="font-size: 5.6px; font-family: 'Liberation Sans', sans-serif; stroke: #000; stroke-width: 0.045px; font-style: italic" textLength="1.789" lengthAdjust="spacingAndGlyphs">t</tspan>
       <tspan x="11.2813" y="1.25" style="font-size: 5.6px; font-family: 'Liberation Sans', sans-serif; stroke: #000; stroke-width: 0.045px; font-style: italic" textLength="1.431" lengthAdjust="spacingAndGlyphs">i</tspan>
       <tspan x="12.774609" y="1.25" style="font-size: 5.6px; font-family: 'Liberation Sans', sans-serif; stroke: #000; stroke-width: 0.045px; font-style: italic" textLength="3.426" lengthAdjust="spacingAndGlyphs">o</tspan>
       <tspan x="16.200781" y="1.25" style="font-size: 5.6px; font-family: 'Liberation Sans', sans-serif; stroke: #000; stroke-width: 0.045px; font-style: italic" textLength="3.842" lengthAdjust="spacingAndGlyphs">B</tspan>
       
       <tspan x="23.4695" y="-0.0625" style="font-size: 8px; font-family: 'Liberation Sans', sans-serif; stroke: #000; stroke-width: 0.064px" textLength="5.373" lengthAdjust="spacingAndGlyphs">=</tspan>
       
       <tspan x="32.050391" y="-0.0625" style="font-size: 8px; font-family: 'Liberation Sans', sans-serif; stroke: #000; stroke-width: 0.064px" textLength="5.090" lengthAdjust="spacingAndGlyphs">1</tspan>
       <tspan x="37.140234" y="-0.0625" style="font-size: 8px; font-family: 'Liberation Sans', sans-serif; stroke: #000; stroke-width: 0.064px" textLength="2.543" lengthAdjust="spacingAndGlyphs">.</tspan>
       <tspan x="39.683203" y="-0.0625" style="font-size: 8px; font-family: 'Liberation Sans', sans-serif; stroke: #000; stroke-width: 0.064px" textLength="5.090" lengthAdjust="spacingAndGlyphs">0</tspan>
       <tspan x="44.773047" y="-0.0625" style="font-size: 8px; font-family: 'Liberation Sans', sans-serif; stroke: #000; stroke-width: 0.064px" textLength="5.090" lengthAdjust="spacingAndGlyphs">0</tspan>
      </text>
     </g>
    </g>
    <g id="line2d_26">
     <path d="M 190.30625 91.151375 
L 198.30625 91.151375 
L 206.30625 91.151375 
" style="fill: none; stroke: #ffa500; stroke-width: 1.5; stroke-linecap: square"/>
    </g>
    <g id="text_9">
     <g transform="translate(212.70625 93.951375)">
      <text>
       <tspan x="0.1127" y="-0.0625" style="font-size: 8px; font-family: 'Liberation Sans', sans-serif; stroke: #000; stroke-width: 0.064px; font-style: italic" textLength="3.064" lengthAdjust="spacingAndGlyphs">r</tspan>
       <tspan x="3.3679" y="1.25" style="font-size: 5.6px; font-family: 'Liberation Sans', sans-serif; stroke: #000; stroke-width: 0.045px; font-style: italic" textLength="2.145" lengthAdjust="spacingAndGlyphs">r</tspan>
       <tspan x="5.591406" y="1.25" style="font-size: 5.6px; font-family: 'Liberation Sans', sans-serif; stroke: #000; stroke-width: 0.045px; font-style: italic" textLength="3.432" lengthAdjust="spacingAndGlyphs">a</tspan>
       <tspan x="9.2263" y="1.25" style="font-size: 5.6px; font-family: 'Liberation Sans', sans-serif; stroke: #000; stroke-width: 0.045px; font-style: italic" textLength="1.789" lengthAdjust="spacingAndGlyphs">t</tspan>
       <tspan x="11.2813" y="1.25" style="font-size: 5.6px; font-family: 'Liberation Sans', sans-serif; stroke: #000; stroke-width: 0.045px; font-style: italic" textLength="1.431" lengthAdjust="spacingAndGlyphs">i</tspan>
       <tspan x="12.774609" y="1.25" style="font-size: 5.6px; font-family: 'Liberation Sans', sans-serif; stroke: #000; stroke-width: 0.045px; font-style: italic" textLength="3.426" lengthAdjust="spacingAndGlyphs">o</tspan>
       <tspan x="16.200781" y="1.25" style="font-size: 5.6px; font-family: 'Liberation Sans', sans-serif; stroke: #000; stroke-width: 0.045px; font-style: italic" textLength="3.842" lengthAdjust="spacingAndGlyphs">B</tspan>
       
       <tspan x="23.4695" y="-0.0625" style="font-size: 8px; font-family: 'Liberation Sans', sans-serif; stroke: #000; stroke-width: 0.064px" textLength="5.373" lengthAdjust="spacingAndGlyphs">=</tspan>
       
       <tspan x="32.050391" y="-0.0625" style="font-size: 8px; font-family: 'Liberation Sans', sans-serif; stroke: #000; stroke-width: 0.064px" textLength="5.090" lengthAdjust="spacingAndGlyphs">0</tspan>
       <tspan x="37.140234" y="-0.0625" style="font-size: 8px; font-family: 'Liberation Sans', sans-serif; stroke: #000; stroke-width: 0.064px" textLength="2.543" lengthAdjust="spacingAndGlyphs">.</tspan>
       <tspan x="39.683203" y="-0.0625" style="font-size: 8px; font-family: 'Liberation Sans', sans-serif; stroke: #000; stroke-width: 0.064px" textLength="5.090" lengthAdjust="spacingAndGlyphs">9</tspan>
       <tspan x="44.773047" y="-0.0625" style="font-size: 8px; font-family: 'Liberation Sans', sans-serif; stroke: #000; stroke-width: 0.064px" textLength="5.090" lengthAdjust="spacingAndGlyphs">0</tspan>
      </text>
     </g>
    </g>
    <g id="line2d_27">
     <path d="M 190.30625 103.293875 
L 198.30625 103.293875 
L 206.30625 103.293875 
" style="fill: none; stroke: #008000; stroke-width: 1.5; stroke-linecap: square"/>
    </g>
    <g id="text_10">
     <g transform="translate(212.70625 106.093875)">
      <text>
       <tspan x="0.1127" y="-0.0625" style="font-size: 8px; font-family: 'Liberation Sans', sans-serif; stroke: #000; stroke-width: 0.064px; font-style: italic" textLength="3.064" lengthAdjust="spacingAndGlyphs">r</tspan>
       <tspan x="3.3679" y="1.25" style="font-size: 5.6px; font-family: 'Liberation Sans', sans-serif; stroke: #000; stroke-width: 0.045px; font-style: italic" textLength="2.145" lengthAdjust="spacingAndGlyphs">r</tspan>
       <tspan x="5.591406" y="1.25" style="font-size: 5.6px; font-family: 'Liberation Sans', sans-serif; stroke: #000; stroke-width: 0.045px; font-style: italic" textLength="3.432" lengthAdjust="spacingAndGlyphs">a</tspan>
       <tspan x="9.2263" y="1.25" style="font-size: 5.6px; font-family: 'Liberation Sans', sans-serif; stroke: #000; stroke-width: 0.045px; font-style: italic" textLength="1.789" lengthAdjust="spacingAndGlyphs">t</tspan>
       <tspan x="11.2813" y="1.25" style="font-size: 5.6px; font-family: 'Liberation Sans', sans-serif; stroke: #000; stroke-width: 0.045px; font-style: italic" textLength="1.431" lengthAdjust="spacingAndGlyphs">i</tspan>
       <tspan x="12.774609" y="1.25" style="font-size: 5.6px; font-family: 'Liberation Sans', sans-serif; stroke: #000; stroke-width: 0.045px; font-style: italic" textLength="3.426" lengthAdjust="spacingAndGlyphs">o</tspan>
       <tspan x="16.200781" y="1.25" style="font-size: 5.6px; font-family: 'Liberation Sans', sans-serif; stroke: #000; stroke-width: 0.045px; font-style: italic" textLength="3.842" lengthAdjust="spacingAndGlyphs">B</tspan>
       
       <tspan x="23.4695" y="-0.0625" style="font-size: 8px; font-family: 'Liberation Sans', sans-serif; stroke: #000; stroke-width: 0.064px" textLength="5.373" lengthAdjust="spacingAndGlyphs">=</tspan>
       
       <tspan x="32.050391" y="-0.0625" style="font-size: 8px; font-family: 'Liberation Sans', sans-serif; stroke: #000; stroke-width: 0.064px" textLength="5.090" lengthAdjust="spacingAndGlyphs">0</tspan>
       <tspan x="37.140234" y="-0.0625" style="font-size: 8px; font-family: 'Liberation Sans', sans-serif; stroke: #000; stroke-width: 0.064px" textLength="2.543" lengthAdjust="spacingAndGlyphs">.</tspan>
       <tspan x="39.433203" y="-0.0625" style="font-size: 8px; font-family: 'Liberation Sans', sans-serif; stroke: #000; stroke-width: 0.064px" textLength="5.090" lengthAdjust="spacingAndGlyphs">8</tspan>
       <tspan x="44.523047" y="-0.0625" style="font-size: 8px; font-family: 'Liberation Sans', sans-serif; stroke: #000; stroke-width: 0.064px" textLength="5.090" lengthAdjust="spacingAndGlyphs">0</tspan>
      </text>
     </g>
    </g>
    <g id="line2d_28">
     <path d="M 190.30625 115.436375 
L 198.30625 115.436375 
L 206.30625 115.436375 
" style="fill: none; stroke: #ff0000; stroke-width: 1.5; stroke-linecap: square"/>
    </g>
    <g id="text_11">
     <g transform="translate(212.70625 118.236375)">
      <text>
       <tspan x="0.1127" y="-0.0625" style="font-size: 8px; font-family: 'Liberation Sans', sans-serif; stroke: #000; stroke-width: 0.064px; font-style: italic" textLength="3.064" lengthAdjust="spacingAndGlyphs">r</tspan>
       <tspan x="3.3679" y="1.25" style="font-size: 5.6px; font-family: 'Liberation Sans', sans-serif; stroke: #000; stroke-width: 0.045px; font-style: italic" textLength="2.145" lengthAdjust="spacingAndGlyphs">r</tspan>
       <tspan x="5.591406" y="1.25" style="font-size: 5.6px; font-family: 'Liberation Sans', sans-serif; stroke: #000; stroke-width: 0.045px; font-style: italic" textLength="3.432" lengthAdjust="spacingAndGlyphs">a</tspan>
       <tspan x="9.2263" y="1.25" style="font-size: 5.6px; font-family: 'Liberation Sans', sans-serif; stroke: #000; stroke-width: 0.045px; font-style: italic" textLength="1.789" lengthAdjust="spacingAndGlyphs">t</tspan>
       <tspan x="11.2813" y="1.25" style="font-size: 5.6px; font-family: 'Liberation Sans', sans-serif; stroke: #000; stroke-width: 0.045px; font-style: italic" textLength="1.431" lengthAdjust="spacingAndGlyphs">i</tspan>
       <tspan x="12.774609" y="1.25" style="font-size: 5.6px; font-family: 'Liberation Sans', sans-serif; stroke: #000; stroke-width: 0.045px; font-style: italic" textLength="3.426" lengthAdjust="spacingAndGlyphs">o</tspan>
       <tspan x="16.200781" y="1.25" style="font-size: 5.6px; font-family: 'Liberation Sans', sans-serif; stroke: #000; stroke-width: 0.045px; font-style: italic" textLength="3.842" lengthAdjust="spacingAndGlyphs">B</tspan>
       
       <tspan x="23.4695" y="-0.0625" style="font-size: 8px; font-family: 'Liberation Sans', sans-serif; stroke: #000; stroke-width: 0.064px" textLength="5.373" lengthAdjust="spacingAndGlyphs">=</tspan>
       
       <tspan x="32.050391" y="-0.0625" style="font-size: 8px; font-family: 'Liberation Sans', sans-serif; stroke: #000; stroke-width: 0.064px" textLength="5.090" lengthAdjust="spacingAndGlyphs">0</tspan>
       <tspan x="37.140234" y="-0.0625" style="font-size: 8px; font-family: 'Liberation Sans', sans-serif; stroke: #000; stroke-width: 0.064px" textLength="2.543" lengthAdjust="spacingAndGlyphs">.</tspan>
       <tspan x="39.058203" y="-0.0625" style="font-size: 8px; font-family: 'Liberation Sans', sans-serif; stroke: #000; stroke-width: 0.064px" textLength="5.090" lengthAdjust="spacingAndGlyphs">7</tspan>
       <tspan x="44.148047" y="-0.0625" style="font-size: 8px; font-family: 'Liberation Sans', sans-serif; stroke: #000; stroke-width: 0.064px" textLength="5.090" lengthAdjust="spacingAndGlyphs">0</tspan>
      </text>
     </g>
    </g>
    <g id="line2d_29">
     <path d="M 190.30625 127.578875 
L 198.30625 127.578875 
L 206.30625 127.578875 
" style="fill: none; stroke: #000000; stroke-width: 1.5; stroke-linecap: square"/>
    </g>
    <g id="text_12">
     <text style="font-size: 8px; font-family: 'Liberation Sans', sans-serif; stroke: #000; stroke-width: 0.064px; text-anchor: start" x="212.70625" y="130.378875" transform="rotate(-0 212.70625 130.378875)" textLength="56.430" lengthAdjust="spacingAndGlyphs">pure NS (APR)</text>
    </g>
    <g id="line2d_30">
     <path d="M 190.30625 139.721375 
L 198.30625 139.721375 
L 206.30625 139.721375 
" style="fill: none; stroke-dasharray: 5.55,2.4; stroke-dashoffset: 0; stroke: #000000; stroke-width: 1.5"/>
    </g>
    <g id="text_13">
     <g transform="translate(212.70625 142.521375)">
      <text>
       <tspan x="0.0646" y="-0.0625" style="font-size: 8px; font-family: 'Liberation Sans', sans-serif; stroke: #000; stroke-width: 0.064px; font-style: italic" textLength="7.664" lengthAdjust="spacingAndGlyphs">m</tspan>
       <tspan x="7.792969" y="1.25" style="font-size: 5.6px; font-family: 'Liberation Sans', sans-serif; stroke: #000; stroke-width: 0.045px; font-style: italic" textLength="3.314" lengthAdjust="spacingAndGlyphs">χ</tspan>
       
       <tspan x="14.5340" y="-0.0625" style="font-size: 8px; font-family: 'Liberation Sans', sans-serif; stroke: #000; stroke-width: 0.064px" textLength="5.373" lengthAdjust="spacingAndGlyphs">=</tspan>
       
       <tspan x="23.114844" y="-0.0625" style="font-size: 8px; font-family: 'Liberation Sans', sans-serif; stroke: #000; stroke-width: 0.064px" textLength="5.090" lengthAdjust="spacingAndGlyphs">1</tspan>
       
       <tspan x="30.747656" y="-0.0625" style="font-size: 8px; font-family: 'Liberation Sans', sans-serif; stroke: #000; stroke-width: 0.064px" textLength="6.199" lengthAdjust="spacingAndGlyphs">G</tspan>
       <tspan x="36.946875" y="-0.0625" style="font-size: 8px; font-family: 'Liberation Sans', sans-serif; stroke: #000; stroke-width: 0.064px" textLength="4.922" lengthAdjust="spacingAndGlyphs">e</tspan>
       <tspan x="41.86875" y="-0.0625" style="font-size: 8px; font-family: 'Liberation Sans', sans-serif; stroke: #000; stroke-width: 0.064px" textLength="5.473" lengthAdjust="spacingAndGlyphs">V</tspan>
       <tspan x="47.341406" y="-0.0625" style="font-size: 8px; font-family: 'Liberation Sans', sans-serif; stroke: #000; stroke-width: 0.064px" textLength="2.543" lengthAdjust="spacingAndGlyphs">,</tspan>
       
       <tspan x="52.4945" y="-0.0625" style="font-size: 8px; font-family: 'Liberation Sans', sans-serif; stroke: #000; stroke-width: 0.064px" textLength="4.600" lengthAdjust="spacingAndGlyphs">y</tspan>
       
       <tspan x="60.3699" y="-0.0625" style="font-size: 8px; font-family: 'Liberation Sans', sans-serif; stroke: #000; stroke-width: 0.064px" textLength="5.373" lengthAdjust="spacingAndGlyphs">=</tspan>
       
       <tspan x="68.950781" y="-0.0625" style="font-size: 8px; font-family: 'Liberation Sans', sans-serif; stroke: #000; stroke-width: 0.064px" textLength="5.090" lengthAdjust="spacingAndGlyphs">0</tspan>
       <tspan x="74.040625" y="-0.0625" style="font-size: 8px; font-family: 'Liberation Sans', sans-serif; stroke: #000; stroke-width: 0.064px" textLength="2.543" lengthAdjust="spacingAndGlyphs">.</tspan>
       <tspan x="76.583594" y="-0.0625" style="font-size: 8px; font-family: 'Liberation Sans', sans-serif; stroke: #000; stroke-width: 0.064px" textLength="5.090" lengthAdjust="spacingAndGlyphs">1</tspan>
      </text>
     </g>
    </g>
    <g id="line2d_31">
     <defs>
      <path id="ma8ce2d2448" d="M 0 -3.5 
L -3.5 3.5 
L 3.5 3.5 
z
" style="stroke: #000000; stroke-opacity: 0; stroke-linejoin: miter"/>
     </defs>
     <g>
      <use href="#ma8ce2d2448" x="198.30625" y="152.680125" style="stroke: #000000; stroke-opacity: 0; stroke-linejoin: miter"/>
     </g>
    </g>
    <g id="text_14">
     <text style="font-size: 8px; font-family: 'Liberation Sans', sans-serif; stroke: #000; stroke-width: 0.064px; text-anchor: start" x="212.70625" y="155.480125" transform="rotate(-0 212.70625 155.480125)" textLength="65.320" lengthAdjust="spacingAndGlyphs">NS inv. mapping</text>
    </g>
    <g id="line2d_32">
     <defs>
      <path id="m303aa0b865" d="M 0 3.5 
C 0.928211 3.5 1.81853 3.131218 2.474874 2.474874 
C 3.131218 1.81853 3.5 0.928211 3.5 0 
C 3.5 -0.928211 3.131218 -1.81853 2.474874 -2.474874 
C 1.81853 -3.131218 0.928211 -3.5 0 -3.5 
C -0.928211 -3.5 -1.81853 -3.131218 -2.474874 -2.474874 
C -3.131218 -1.81853 -3.5 -0.928211 -3.5 0 
C -3.5 0.928211 -3.131218 1.81853 -2.474874 2.474874 
C -1.81853 3.131218 -0.928211 3.5 0 3.5 
z
" style="stroke: #000000; stroke-opacity: 0"/>
     </defs>
     <g>
      <use href="#m303aa0b865" x="198.30625" y="164.822625" style="stroke: #000000; stroke-opacity: 0"/>
     </g>
    </g>
    <g id="text_15">
     <text style="font-size: 8px; font-family: 'Liberation Sans', sans-serif; stroke: #000; stroke-width: 0.064px; text-anchor: start" x="212.70625" y="167.622625" transform="rotate(-0 212.70625 167.622625)" textLength="90.172" lengthAdjust="spacingAndGlyphs">NS + DM inv. mapping</text>
    </g>
   </g>
  </g>
  <g id="axes_2">
   <g id="patch_7">
    <path d="M 42 41.32 
L 310.08 41.32 
L 310.08 1.36 
L 42 1.36 
z
" style="fill: #ffffff"/>
   </g>
   <g id="matplotlib.axis_3">
    <g id="xtick_8">
     <g id="line2d_33">
      <g>
       <use href="#m1504cfccaf" x="72.84" y="41.32" style="stroke: #000000; stroke-width: 0.8"/>
      </g>
     </g>
    </g>
    <g id="xtick_9">
     <g id="line2d_34">
      <g>
       <use href="#m1504cfccaf" x="110.333333" y="41.32" style="stroke: #000000; stroke-width: 0.8"/>
      </g>
     </g>
    </g>
    <g id="xtick_10">
     <g id="line2d_35">
      <g>
       <use href="#m1504cfccaf" x="147.826667" y="41.32" style="stroke: #000000; stroke-width: 0.8"/>
      </g>
     </g>
    </g>
    <g id="xtick_11">
     <g id="line2d_36">
      <g>
       <use href="#m1504cfccaf" x="185.32" y="41.32" style="stroke: #000000; stroke-width: 0.8"/>
      </g>
     </g>
    </g>
    <g id="xtick_12">
     <g id="line2d_37">
      <g>
       <use href="#m1504cfccaf" x="222.813333" y="41.32" style="stroke: #000000; stroke-width: 0.8"/>
      </g>
     </g>
    </g>
    <g id="xtick_13">
     <g id="line2d_38">
      <g>
       <use href="#m1504cfccaf" x="260.306667" y="41.32" style="stroke: #000000; stroke-width: 0.8"/>
      </g>
     </g>
    </g>
    <g id="xtick_14">
     <g id="line2d_39">
      <g>
       <use href="#m1504cfccaf" x="297.8" y="41.32" style="stroke: #000000; stroke-width: 0.8"/>
      </g>
     </g>
    </g>
   </g>
   <g id="matplotlib.axis_4">
    <g id="ytick_6">
     <g id="line2d_40">
      <g>
       <use href="#m5d545ce8f8" x="42" y="22.8" style="stroke: #000000; stroke-width: 0.8"/>
      </g>
     </g>
     <g id="text_16">
      <text style="font-size: 10px; font-family: 'Liberation Sans', sans-serif; stroke: #000; stroke-width: 0.080px; text-anchor: end" x="35" y="26.599219" transform="rotate(-0 35 26.599219)" textLength="6.362" lengthAdjust="spacingAndGlyphs">0</text>
     </g>
    </g>
    <g id="ytick_7">
     <g id="line2d_41">
      <g>
       <use href="#m5d545ce8f8" x="42" y="3.44" style="stroke: #000000; stroke-width: 0.8"/>
      </g>
     </g>
     <g id="text_17">
      <text style="font-size: 10px; font-family: 'Liberation Sans', sans-serif; stroke: #000; stroke-width: 0.080px; text-anchor: end" x="35" y="7.239219" transform="rotate(-0 35 7.239219)" textLength="6.362" lengthAdjust="spacingAndGlyphs">1</text>
     </g>
    </g>
    <g id="text_18">
     <g transform="translate(11.36 46.49) rotate(-90)">
      <text>
       <tspan x="0" y="-0.40625" style="font-size: 10px; font-family: 'Liberation Sans', sans-serif; stroke: #000; stroke-width: 0.080px" textLength="7.700" lengthAdjust="spacingAndGlyphs">D</tspan>
       <tspan x="7.700195" y="-0.40625" style="font-size: 10px; font-family: 'Liberation Sans', sans-serif; stroke: #000; stroke-width: 0.080px" textLength="6.152" lengthAdjust="spacingAndGlyphs">e</tspan>
       <tspan x="13.9365" y="-0.40625" style="font-size: 10px; font-family: 'Liberation Sans', sans-serif; stroke: #000; stroke-width: 0.080px" textLength="5.750" lengthAdjust="spacingAndGlyphs">v</tspan>
       <tspan x="19.8064" y="-0.40625" style="font-size: 10px; font-family: 'Liberation Sans', sans-serif; stroke: #000; stroke-width: 0.080px" textLength="3.830" lengthAdjust="spacingAndGlyphs">(</tspan>
       <tspan x="40.0383" y="-0.40625" style="font-size: 10px; font-family: 'Liberation Sans', sans-serif; stroke: #000; stroke-width: 0.080px" textLength="3.830" lengthAdjust="spacingAndGlyphs">)</tspan>
       
       
       <tspan x="23.671875" y="-0.40625" style="font-size: 10px; font-family: 'Liberation Sans', sans-serif; stroke: #000; stroke-width: 0.080px; font-style: italic" textLength="6.948" lengthAdjust="spacingAndGlyphs">R</tspan>
       <tspan x="30.620117" y="1.234375" style="font-size: 7px; font-family: 'Liberation Sans', sans-serif; stroke: #000; stroke-width: 0.056px; font-style: italic" textLength="4.802" lengthAdjust="spacingAndGlyphs">B</tspan>
       <tspan x="35.422363" y="1.234375" style="font-size: 7px; font-family: 'Liberation Sans', sans-serif; stroke: #000; stroke-width: 0.056px; font-style: italic" textLength="4.307" lengthAdjust="spacingAndGlyphs">e</tspan>
      </text>
     </g>
     <text style="font-size: 10px; font-family: 'Liberation Sans', sans-serif; stroke: #000; stroke-width: 0.080px" transform="translate(22.557813 29.992344) rotate(-90)" textLength="17.305" lengthAdjust="spacingAndGlyphs">(%)</text>
    </g>
   </g>
   <g id="patch_8">
    <path d="M 42 41.32 
L 42 1.36 
" style="fill: none; stroke: #000000; stroke-width: 0.8; stroke-linejoin: miter; stroke-linecap: square"/>
   </g>
   <g id="patch_9">
    <path d="M 310.08 41.32 
L 310.08 1.36 
" style="fill: none; stroke: #000000; stroke-width: 0.8; stroke-linejoin: miter; stroke-linecap: square"/>
   </g>
   <g id="patch_10">
    <path d="M 42 41.32 
L 310.08 41.32 
" style="fill: none; stroke: #000000; stroke-width: 0.8; stroke-linejoin: miter; stroke-linecap: square"/>
   </g>
   <g id="patch_11">
    <path d="M 42 1.36 
L 310.08 1.36 
" style="fill: none; stroke: #000000; stroke-width: 0.8; stroke-linejoin: miter; stroke-linecap: square"/>
   </g>
   <g id="line2d_42">
    <g clip-path="url(#p424a3fc5e8)">
     <use href="#mb5287e0153" x="88.08" y="12.4" style="fill: #ffa500; stroke: #000000; stroke-opacity: 0"/>
     <use href="#mb5287e0153" x="95.12" y="12.48" style="fill: #ffa500; stroke: #000000; stroke-opacity: 0"/>
     <use href="#mb5287e0153" x="102.72" y="13.36" style="fill: #ffa500; stroke: #000000; stroke-opacity: 0"/>
     <use href="#mb5287e0153" x="110.96" y="15.12" style="fill: #ffa500; stroke: #000000; stroke-opacity: 0"/>
     <use href="#mb5287e0153" x="119.44" y="17.6" style="fill: #ffa500; stroke: #000000; stroke-opacity: 0"/>
     <use href="#mb5287e0153" x="126.64" y="20.68" style="fill: #ffa500; stroke: #000000; stroke-opacity: 0"/>
     <use href="#mb5287e0153" x="131.48" y="22.72" style="fill: #ffa500; stroke: #000000; stroke-opacity: 0"/>
     <use href="#mb5287e0153" x="133.88" y="25.96" style="fill: #ffa500; stroke: #000000; stroke-opacity: 0"/>
     <use href="#mb5287e0153" x="137.4" y="27.72" style="fill: #ffa500; stroke: #000000; stroke-opacity: 0"/>
     <use href="#mb5287e0153" x="159.64" y="27.72" style="fill: #ffa500; stroke: #000000; stroke-opacity: 0"/>
    </g>
   </g>
   <g id="line2d_43">
    <g clip-path="url(#p424a3fc5e8)">
     <use href="#mbd43150556" x="104.8" y="4.68" style="fill: #008000; stroke: #000000; stroke-opacity: 0"/>
     <use href="#mbd43150556" x="112.72" y="5.44" style="fill: #008000; stroke: #000000; stroke-opacity: 0"/>
     <use href="#mbd43150556" x="121.36" y="6.6" style="fill: #008000; stroke: #000000; stroke-opacity: 0"/>
     <use href="#mbd43150556" x="131.04" y="9.68" style="fill: #008000; stroke: #000000; stroke-opacity: 0"/>
     <use href="#mbd43150556" x="141" y="14.24" style="fill: #008000; stroke: #000000; stroke-opacity: 0"/>
     <use href="#mbd43150556" x="150.68" y="18.48" style="fill: #008000; stroke: #000000; stroke-opacity: 0"/>
     <use href="#mbd43150556" x="158.6" y="22.16" style="fill: #008000; stroke: #000000; stroke-opacity: 0"/>
     <use href="#mbd43150556" x="165.04" y="28" style="fill: #008000; stroke: #000000; stroke-opacity: 0"/>
     <use href="#mbd43150556" x="170.92" y="30.8" style="fill: #008000; stroke: #000000; stroke-opacity: 0"/>
     <use href="#mbd43150556" x="200.16" y="29.48" style="fill: #008000; stroke: #000000; stroke-opacity: 0"/>
    </g>
   </g>
   <g id="line2d_44">
    <g clip-path="url(#p424a3fc5e8)">
     <use href="#m608933609a" x="127.96" y="3.24" style="fill: #ff0000; stroke: #000000; stroke-opacity: 0"/>
     <use href="#m608933609a" x="136.6" y="3.24" style="fill: #ff0000; stroke: #000000; stroke-opacity: 0"/>
     <use href="#m608933609a" x="146.64" y="5.12" style="fill: #ff0000; stroke: #000000; stroke-opacity: 0"/>
     <use href="#m608933609a" x="157.88" y="8.96" style="fill: #ff0000; stroke: #000000; stroke-opacity: 0"/>
     <use href="#m608933609a" x="170.04" y="13.92" style="fill: #ff0000; stroke: #000000; stroke-opacity: 0"/>
     <use href="#m608933609a" x="182.64" y="18.92" style="fill: #ff0000; stroke: #000000; stroke-opacity: 0"/>
     <use href="#m608933609a" x="194.4" y="20.96" style="fill: #ff0000; stroke: #000000; stroke-opacity: 0"/>
     <use href="#m608933609a" x="207.6" y="27.12" style="fill: #ff0000; stroke: #000000; stroke-opacity: 0"/>
     <use href="#m608933609a" x="217.32" y="30.52" style="fill: #ff0000; stroke: #000000; stroke-opacity: 0"/>
     <use href="#m608933609a" x="257.92" y="24.6" style="fill: #ff0000; stroke: #000000; stroke-opacity: 0"/>
    </g>
   </g>
   <g id="line2d_45">
    <g clip-path="url(#p424a3fc5e8)">
     <use href="#m29fc046956" x="91.88" y="21.4" style="fill: #ffa500; stroke: #000000; stroke-opacity: 0; stroke-linejoin: miter"/>
     <use href="#m29fc046956" x="100.08" y="19.8" style="fill: #ffa500; stroke: #000000; stroke-opacity: 0; stroke-linejoin: miter"/>
     <use href="#m29fc046956" x="109.04" y="18.92" style="fill: #ffa500; stroke: #000000; stroke-opacity: 0; stroke-linejoin: miter"/>
     <use href="#m29fc046956" x="119.44" y="18.92" style="fill: #ffa500; stroke: #000000; stroke-opacity: 0; stroke-linejoin: miter"/>
     <use href="#m29fc046956" x="128.84" y="18.92" style="fill: #ffa500; stroke: #000000; stroke-opacity: 0; stroke-linejoin: miter"/>
     <use href="#m29fc046956" x="138.8" y="22" style="fill: #ffa500; stroke: #000000; stroke-opacity: 0; stroke-linejoin: miter"/>
     <use href="#m29fc046956" x="145.12" y="23.32" style="fill: #ffa500; stroke: #000000; stroke-opacity: 0; stroke-linejoin: miter"/>
     <use href="#m29fc046956" x="147.76" y="25.08" style="fill: #ffa500; stroke: #000000; stroke-opacity: 0; stroke-linejoin: miter"/>
     <use href="#m29fc046956" x="149.96" y="26.4" style="fill: #ffa500; stroke: #000000; stroke-opacity: 0; stroke-linejoin: miter"/>
     <use href="#m29fc046956" x="167.4" y="26.56" style="fill: #ffa500; stroke: #000000; stroke-opacity: 0; stroke-linejoin: miter"/>
    </g>
   </g>
   <g id="line2d_46">
    <g clip-path="url(#p424a3fc5e8)">
     <use href="#mc2b58c1543" x="108.6" y="26.84" style="fill: #008000; stroke: #000000; stroke-opacity: 0; stroke-linejoin: miter"/>
     <use href="#mc2b58c1543" x="117.6" y="22.44" style="fill: #008000; stroke: #000000; stroke-opacity: 0; stroke-linejoin: miter"/>
     <use href="#mc2b58c1543" x="127.72" y="18.92" style="fill: #008000; stroke: #000000; stroke-opacity: 0; stroke-linejoin: miter"/>
     <use href="#mc2b58c1543" x="138.8" y="17.16" style="fill: #008000; stroke: #000000; stroke-opacity: 0; stroke-linejoin: miter"/>
     <use href="#mc2b58c1543" x="150.68" y="18.04" style="fill: #008000; stroke: #000000; stroke-opacity: 0; stroke-linejoin: miter"/>
     <use href="#mc2b58c1543" x="162.12" y="21.12" style="fill: #008000; stroke: #000000; stroke-opacity: 0; stroke-linejoin: miter"/>
     <use href="#mc2b58c1543" x="171.52" y="23.32" style="fill: #008000; stroke: #000000; stroke-opacity: 0; stroke-linejoin: miter"/>
     <use href="#mc2b58c1543" x="177.96" y="26.12" style="fill: #008000; stroke: #000000; stroke-opacity: 0; stroke-linejoin: miter"/>
     <use href="#mc2b58c1543" x="182.36" y="28.6" style="fill: #008000; stroke: #000000; stroke-opacity: 0; stroke-linejoin: miter"/>
     <use href="#mc2b58c1543" x="206.4" y="27.72" style="fill: #008000; stroke: #000000; stroke-opacity: 0; stroke-linejoin: miter"/>
    </g>
   </g>
   <g id="line2d_47">
    <g clip-path="url(#p424a3fc5e8)">
     <use href="#m9a5f237e75" x="131.32" y="39.16" style="fill: #ff0000; stroke: #000000; stroke-opacity: 0; stroke-linejoin: miter"/>
     <use href="#m9a5f237e75" x="141" y="32.4" style="fill: #ff0000; stroke: #000000; stroke-opacity: 0; stroke-linejoin: miter"/>
     <use href="#m9a5f237e75" x="152.16" y="25.96" style="fill: #ff0000; stroke: #000000; stroke-opacity: 0; stroke-linejoin: miter"/>
     <use href="#m9a5f237e75" x="164.8" y="22" style="fill: #ff0000; stroke: #000000; stroke-opacity: 0; stroke-linejoin: miter"/>
     <use href="#m9a5f237e75" x="178.56" y="22" style="fill: #ff0000; stroke: #000000; stroke-opacity: 0; stroke-linejoin: miter"/>
     <use href="#m9a5f237e75" x="192.76" y="23.92" style="fill: #ff0000; stroke: #000000; stroke-opacity: 0; stroke-linejoin: miter"/>
     <use href="#m9a5f237e75" x="205.96" y="23.6" style="fill: #ff0000; stroke: #000000; stroke-opacity: 0; stroke-linejoin: miter"/>
     <use href="#m9a5f237e75" x="218.44" y="24.2" style="fill: #ff0000; stroke: #000000; stroke-opacity: 0; stroke-linejoin: miter"/>
     <use href="#m9a5f237e75" x="226.56" y="27" style="fill: #ff0000; stroke: #000000; stroke-opacity: 0; stroke-linejoin: miter"/>
     <use href="#m9a5f237e75" x="261.96" y="22.36" style="fill: #ff0000; stroke: #000000; stroke-opacity: 0; stroke-linejoin: miter"/>
    </g>
   </g>
  </g>
  <g id="axes_3">
   <g id="patch_12">
    <path d="M 42 267.8 
L 310.08 267.8 
L 310.08 227.8 
L 42 227.8 
z
" style="fill: #ffffff"/>
   </g>
   <g id="matplotlib.axis_5">
    <g id="xtick_15">
     <g id="line2d_48">
      <g>
       <use href="#m1504cfccaf" x="72.84" y="267.8" style="stroke: #000000; stroke-width: 0.8"/>
      </g>
     </g>
     <g id="text_19">
      <text style="font-size: 10px; font-family: 'Liberation Sans', sans-serif; stroke: #000; stroke-width: 0.080px; text-anchor: middle" x="72.84" y="282.398438" transform="rotate(-0 72.84 282.398438)" textLength="12.725" lengthAdjust="spacingAndGlyphs">10</text>
     </g>
    </g>
    <g id="xtick_16">
     <g id="line2d_49">
      <g>
       <use href="#m1504cfccaf" x="110.333333" y="267.8" style="stroke: #000000; stroke-width: 0.8"/>
      </g>
     </g>
     <g id="text_20">
      <text style="font-size: 10px; font-family: 'Liberation Sans', sans-serif; stroke: #000; stroke-width: 0.080px; text-anchor: middle" x="110.333333" y="282.398438" transform="rotate(-0 110.333333 282.398438)" textLength="12.725" lengthAdjust="spacingAndGlyphs">11</text>
     </g>
    </g>
    <g id="xtick_17">
     <g id="line2d_50">
      <g>
       <use href="#m1504cfccaf" x="147.826667" y="267.8" style="stroke: #000000; stroke-width: 0.8"/>
      </g>
     </g>
     <g id="text_21">
      <text style="font-size: 10px; font-family: 'Liberation Sans', sans-serif; stroke: #000; stroke-width: 0.080px; text-anchor: middle" x="147.826667" y="282.398438" transform="rotate(-0 147.826667 282.398438)" textLength="12.725" lengthAdjust="spacingAndGlyphs">12</text>
     </g>
    </g>
    <g id="xtick_18">
     <g id="line2d_51">
      <g>
       <use href="#m1504cfccaf" x="185.32" y="267.8" style="stroke: #000000; stroke-width: 0.8"/>
      </g>
     </g>
     <g id="text_22">
      <text style="font-size: 10px; font-family: 'Liberation Sans', sans-serif; stroke: #000; stroke-width: 0.080px; text-anchor: middle" x="185.32" y="282.398438" transform="rotate(-0 185.32 282.398438)" textLength="12.725" lengthAdjust="spacingAndGlyphs">13</text>
     </g>
    </g>
    <g id="xtick_19">
     <g id="line2d_52">
      <g>
       <use href="#m1504cfccaf" x="222.813333" y="267.8" style="stroke: #000000; stroke-width: 0.8"/>
      </g>
     </g>
     <g id="text_23">
      <text style="font-size: 10px; font-family: 'Liberation Sans', sans-serif; stroke: #000; stroke-width: 0.080px; text-anchor: middle" x="222.813333" y="282.398438" transform="rotate(-0 222.813333 282.398438)" textLength="12.725" lengthAdjust="spacingAndGlyphs">14</text>
     </g>
    </g>
    <g id="xtick_20">
     <g id="line2d_53">
      <g>
       <use href="#m1504cfccaf" x="260.306667" y="267.8" style="stroke: #000000; stroke-width: 0.8"/>
      </g>
     </g>
     <g id="text_24">
      <text style="font-size: 10px; font-family: 'Liberation Sans', sans-serif; stroke: #000; stroke-width: 0.080px; text-anchor: middle" x="260.306667" y="282.398438" transform="rotate(-0 260.306667 282.398438)" textLength="12.725" lengthAdjust="spacingAndGlyphs">15</text>
     </g>
    </g>
    <g id="xtick_21">
     <g id="line2d_54">
      <g>
       <use href="#m1504cfccaf" x="297.8" y="267.8" style="stroke: #000000; stroke-width: 0.8"/>
      </g>
     </g>
     <g id="text_25">
      <text style="font-size: 10px; font-family: 'Liberation Sans', sans-serif; stroke: #000; stroke-width: 0.080px; text-anchor: middle" x="297.8" y="282.398438" transform="rotate(-0 297.8 282.398438)" textLength="12.725" lengthAdjust="spacingAndGlyphs">16</text>
     </g>
    </g>
    <g id="text_26">
     <g transform="translate(143.865 299.875781)">
      <text>
       <tspan x="0" y="-0.609375" style="font-size: 15px; font-family: 'Liberation Sans', sans-serif; stroke: #000; stroke-width: 0.120px; font-style: italic" textLength="10.422" lengthAdjust="spacingAndGlyphs">R</tspan>
       <tspan x="10.422363" y="1.851562" style="font-size: 10.5px; font-family: 'Liberation Sans', sans-serif; stroke: #000; stroke-width: 0.084px; font-style: italic" textLength="7.203" lengthAdjust="spacingAndGlyphs">B</tspan>
       <tspan x="17.625732" y="1.851562" style="font-size: 10.5px; font-family: 'Liberation Sans', sans-serif; stroke: #000; stroke-width: 0.084px; font-style: italic" textLength="6.460" lengthAdjust="spacingAndGlyphs">e</tspan>
       
       <tspan x="29.7937" y="-0.609375" style="font-size: 15px; font-family: 'Liberation Sans', sans-serif; stroke: #000; stroke-width: 0.120px" textLength="4.793" lengthAdjust="spacingAndGlyphs">[</tspan>
       <tspan x="35.1468" y="-0.609375" style="font-size: 15px; font-family: 'Liberation Sans', sans-serif; stroke: #000; stroke-width: 0.120px" textLength="8.625" lengthAdjust="spacingAndGlyphs">k</tspan>
       <tspan x="43.9237" y="-0.609375" style="font-size: 15px; font-family: 'Liberation Sans', sans-serif; stroke: #000; stroke-width: 0.120px" textLength="14.370" lengthAdjust="spacingAndGlyphs">m</tspan>
       <tspan x="58.9441" y="-0.609375" style="font-size: 15px; font-family: 'Liberation Sans', sans-serif; stroke: #000; stroke-width: 0.120px" textLength="4.793" lengthAdjust="spacingAndGlyphs">]</tspan>
      </text>
     </g>
    </g>
   </g>
   <g id="matplotlib.axis_6">
    <g id="ytick_8">
     <g id="line2d_55">
      <g>
       <use href="#m5d545ce8f8" x="42" y="251.84" style="stroke: #000000; stroke-width: 0.8"/>
      </g>
     </g>
     <g id="text_27">
      <text style="font-size: 10px; font-family: 'Liberation Sans', sans-serif; stroke: #000; stroke-width: 0.080px; text-anchor: end" x="35" y="255.639219" transform="rotate(-0 35 255.639219)" textLength="6.362" lengthAdjust="spacingAndGlyphs">0</text>
     </g>
    </g>
    <g id="ytick_9">
     <g id="line2d_56">
      <g>
       <use href="#m5d545ce8f8" x="42" y="235.6" style="stroke: #000000; stroke-width: 0.8"/>
      </g>
     </g>
     <g id="text_28">
      <text style="font-size: 10px; font-family: 'Liberation Sans', sans-serif; stroke: #000; stroke-width: 0.080px; text-anchor: end" x="35" y="239.399219" transform="rotate(-0 35 239.399219)" textLength="6.362" lengthAdjust="spacingAndGlyphs">1</text>
     </g>
    </g>
    <g id="text_29">
     <g transform="translate(11.36 277.37) rotate(-90)">
      <text>
       <tspan x="0" y="-0.40625" style="font-size: 10px; font-family: 'Liberation Sans', sans-serif; stroke: #000; stroke-width: 0.080px" textLength="7.700" lengthAdjust="spacingAndGlyphs">D</tspan>
       <tspan x="7.700195" y="-0.40625" style="font-size: 10px; font-family: 'Liberation Sans', sans-serif; stroke: #000; stroke-width: 0.080px" textLength="6.152" lengthAdjust="spacingAndGlyphs">e</tspan>
       <tspan x="13.9365" y="-0.40625" style="font-size: 10px; font-family: 'Liberation Sans', sans-serif; stroke: #000; stroke-width: 0.080px" textLength="5.750" lengthAdjust="spacingAndGlyphs">v</tspan>
       <tspan x="19.8064" y="-0.40625" style="font-size: 10px; font-family: 'Liberation Sans', sans-serif; stroke: #000; stroke-width: 0.080px" textLength="3.830" lengthAdjust="spacingAndGlyphs">(</tspan>
       <tspan x="51.8713" y="-0.40625" style="font-size: 10px; font-family: 'Liberation Sans', sans-serif; stroke: #000; stroke-width: 0.080px" textLength="3.830" lengthAdjust="spacingAndGlyphs">)</tspan>
       
       
       <tspan x="23.671875" y="-0.40625" style="font-size: 10px; font-family: 'Liberation Sans', sans-serif; stroke: #000; stroke-width: 0.080px; font-style: italic" textLength="6.948" lengthAdjust="spacingAndGlyphs">R</tspan>
       <tspan x="30.7187" y="1.234375" style="font-size: 7px; font-family: 'Liberation Sans', sans-serif; stroke: #000; stroke-width: 0.056px; font-style: italic" textLength="2.681" lengthAdjust="spacingAndGlyphs">r</tspan>
       <tspan x="33.498047" y="1.234375" style="font-size: 7px; font-family: 'Liberation Sans', sans-serif; stroke: #000; stroke-width: 0.056px; font-style: italic" textLength="4.290" lengthAdjust="spacingAndGlyphs">a</tspan>
       <tspan x="38.0417" y="1.234375" style="font-size: 7px; font-family: 'Liberation Sans', sans-serif; stroke: #000; stroke-width: 0.056px; font-style: italic" textLength="2.237" lengthAdjust="spacingAndGlyphs">t</tspan>
       <tspan x="40.6104" y="1.234375" style="font-size: 7px; font-family: 'Liberation Sans', sans-serif; stroke: #000; stroke-width: 0.056px; font-style: italic" textLength="1.788" lengthAdjust="spacingAndGlyphs">i</tspan>
       <tspan x="42.477051" y="1.234375" style="font-size: 7px; font-family: 'Liberation Sans', sans-serif; stroke: #000; stroke-width: 0.056px; font-style: italic" textLength="4.283" lengthAdjust="spacingAndGlyphs">o</tspan>
       <tspan x="46.759766" y="1.234375" style="font-size: 7px; font-family: 'Liberation Sans', sans-serif; stroke: #000; stroke-width: 0.056px; font-style: italic" textLength="4.802" lengthAdjust="spacingAndGlyphs">B</tspan>
      </text>
     </g>
     <text style="font-size: 10px; font-family: 'Liberation Sans', sans-serif; stroke: #000; stroke-width: 0.080px" transform="translate(22.557812 254.972344) rotate(-90)" textLength="17.305" lengthAdjust="spacingAndGlyphs">(%)</text>
    </g>
   </g>
   <g id="patch_13">
    <path d="M 42 267.8 
L 42 227.8 
" style="fill: none; stroke: #000000; stroke-width: 0.8; stroke-linejoin: miter; stroke-linecap: square"/>
   </g>
   <g id="patch_14">
    <path d="M 310.08 267.8 
L 310.08 227.8 
" style="fill: none; stroke: #000000; stroke-width: 0.8; stroke-linejoin: miter; stroke-linecap: square"/>
   </g>
   <g id="patch_15">
    <path d="M 42 267.8 
L 310.08 267.8 
" style="fill: none; stroke: #000000; stroke-width: 0.8; stroke-linejoin: miter; stroke-linecap: square"/>
   </g>
   <g id="patch_16">
    <path d="M 42 227.8 
L 310.08 227.8 
" style="fill: none; stroke: #000000; stroke-width: 0.8; stroke-linejoin: miter; stroke-linecap: square"/>
   </g>
   <g id="line2d_57">
    <defs>
     <path id="m7065debe32" d="M 0 2.125 
C 0.563557 2.125 1.104107 1.901097 1.502602 1.502602 
C 1.901097 1.104107 2.125 0.563557 2.125 0 
C 2.125 -0.563557 1.901097 -1.104107 1.502602 -1.502602 
C 1.104107 -1.901097 0.563557 -2.125 0 -2.125 
C -0.563557 -2.125 -1.104107 -1.901097 -1.502602 -1.502602 
C -1.901097 -1.104107 -2.125 -0.563557 -2.125 0 
C -2.125 0.563557 -1.901097 1.104107 -1.502602 1.502602 
C -1.104107 1.901097 -0.563557 2.125 0 2.125 
z
" style="stroke: #000000; stroke-opacity: 0"/>
    </defs>
    <g clip-path="url(#p6cc1662a9c)">
     <use href="#m7065debe32" x="127.96" y="238.6" style="fill: #ff0000; stroke: #000000; stroke-opacity: 0"/>
     <use href="#m7065debe32" x="136.32" y="239.2" style="fill: #ff0000; stroke: #000000; stroke-opacity: 0"/>
     <use href="#m7065debe32" x="146.64" y="239.36" style="fill: #ff0000; stroke: #000000; stroke-opacity: 0"/>
     <use href="#m7065debe32" x="157.88" y="238.92" style="fill: #ff0000; stroke: #000000; stroke-opacity: 0"/>
     <use href="#m7065debe32" x="170.04" y="237.72" style="fill: #ff0000; stroke: #000000; stroke-opacity: 0"/>
     <use href="#m7065debe32" x="182.64" y="236.72" style="fill: #ff0000; stroke: #000000; stroke-opacity: 0"/>
     <use href="#m7065debe32" x="194.4" y="238.16" style="fill: #ff0000; stroke: #000000; stroke-opacity: 0"/>
     <use href="#m7065debe32" x="207.44" y="242.28" style="fill: #ff0000; stroke: #000000; stroke-opacity: 0"/>
     <use href="#m7065debe32" x="217.32" y="241.84" style="fill: #ff0000; stroke: #000000; stroke-opacity: 0"/>
     <use href="#m7065debe32" x="257.8" y="237.24" style="fill: #ff0000; stroke: #000000; stroke-opacity: 0"/>
    </g>
   </g>
   <g id="line2d_58">
    <defs>
     <path id="me5ac191935" d="M 0 -2.2 
L -2.2 2.2 
L 2.2 2.2 
z
" style="stroke: #000000; stroke-opacity: 0; stroke-linejoin: miter"/>
    </defs>
    <g clip-path="url(#p6cc1662a9c)">
     <use href="#me5ac191935" x="131.48" y="254.88" style="fill: #ff0000; stroke: #000000; stroke-opacity: 0; stroke-linejoin: miter"/>
     <use href="#me5ac191935" x="141" y="256.08" style="fill: #ff0000; stroke: #000000; stroke-opacity: 0; stroke-linejoin: miter"/>
     <use href="#me5ac191935" x="152.44" y="256.8" style="fill: #ff0000; stroke: #000000; stroke-opacity: 0; stroke-linejoin: miter"/>
     <use href="#me5ac191935" x="164.8" y="256.2" style="fill: #ff0000; stroke: #000000; stroke-opacity: 0; stroke-linejoin: miter"/>
     <use href="#me5ac191935" x="178.56" y="255.48" style="fill: #ff0000; stroke: #000000; stroke-opacity: 0; stroke-linejoin: miter"/>
     <use href="#me5ac191935" x="192.76" y="253.44" style="fill: #ff0000; stroke: #000000; stroke-opacity: 0; stroke-linejoin: miter"/>
     <use href="#me5ac191935" x="205.96" y="253" style="fill: #ff0000; stroke: #000000; stroke-opacity: 0; stroke-linejoin: miter"/>
     <use href="#me5ac191935" x="218.44" y="256.2" style="fill: #ff0000; stroke: #000000; stroke-opacity: 0; stroke-linejoin: miter"/>
     <use href="#me5ac191935" x="226.56" y="255.04" style="fill: #ff0000; stroke: #000000; stroke-opacity: 0; stroke-linejoin: miter"/>
     <use href="#me5ac191935" x="261.96" y="243.92" style="fill: #ff0000; stroke: #000000; stroke-opacity: 0; stroke-linejoin: miter"/>
    </g>
   </g>
   <g id="line2d_59">
    <defs>
     <path id="mb2c00d230b" d="M 0 2.125 
C 0.563557 2.125 1.104107 1.901097 1.502602 1.502602 
C 1.901097 1.104107 2.125 0.563557 2.125 0 
C 2.125 -0.563557 1.901097 -1.104107 1.502602 -1.502602 
C 1.104107 -1.901097 0.563557 -2.125 0 -2.125 
C -0.563557 -2.125 -1.104107 -1.901097 -1.502602 -1.502602 
C -1.901097 -1.104107 -2.125 -0.563557 -2.125 0 
C -2.125 0.563557 -1.901097 1.104107 -1.502602 1.502602 
C -1.104107 1.901097 -0.563557 2.125 0 2.125 
z
" style="stroke: #000000; stroke-opacity: 0"/>
    </defs>
    <g clip-path="url(#p6cc1662a9c)">
     <use href="#mb2c00d230b" x="104.8" y="249.76" style="fill: #008000; stroke: #000000; stroke-opacity: 0"/>
     <use href="#mb2c00d230b" x="112.72" y="250.04" style="fill: #008000; stroke: #000000; stroke-opacity: 0"/>
     <use href="#mb2c00d230b" x="121.36" y="250.04" style="fill: #008000; stroke: #000000; stroke-opacity: 0"/>
     <use href="#mb2c00d230b" x="131.04" y="249.76" style="fill: #008000; stroke: #000000; stroke-opacity: 0"/>
     <use href="#mb2c00d230b" x="141" y="248.88" style="fill: #008000; stroke: #000000; stroke-opacity: 0"/>
     <use href="#mb2c00d230b" x="150.68" y="248.44" style="fill: #008000; stroke: #000000; stroke-opacity: 0"/>
     <use href="#mb2c00d230b" x="158.6" y="250.64" style="fill: #008000; stroke: #000000; stroke-opacity: 0"/>
     <use href="#mb2c00d230b" x="165.2" y="256.96" style="fill: #008000; stroke: #000000; stroke-opacity: 0"/>
     <use href="#mb2c00d230b" x="170.92" y="258.4" style="fill: #008000; stroke: #000000; stroke-opacity: 0"/>
     <use href="#mb2c00d230b" x="200.16" y="251.24" style="fill: #008000; stroke: #000000; stroke-opacity: 0"/>
    </g>
   </g>
   <g id="line2d_60">
    <defs>
     <path id="m6a150d3398" d="M 0 -2.2 
L -2.2 2.2 
L 2.2 2.2 
z
" style="stroke: #000000; stroke-opacity: 0; stroke-linejoin: miter"/>
    </defs>
    <g clip-path="url(#p6cc1662a9c)">
     <use href="#m6a150d3398" x="108.8" y="259.28" style="fill: #008000; stroke: #000000; stroke-opacity: 0; stroke-linejoin: miter"/>
     <use href="#m6a150d3398" x="117.6" y="259.88" style="fill: #008000; stroke: #000000; stroke-opacity: 0; stroke-linejoin: miter"/>
     <use href="#m6a150d3398" x="127.72" y="260.32" style="fill: #008000; stroke: #000000; stroke-opacity: 0; stroke-linejoin: miter"/>
     <use href="#m6a150d3398" x="138.8" y="260.32" style="fill: #008000; stroke: #000000; stroke-opacity: 0; stroke-linejoin: miter"/>
     <use href="#m6a150d3398" x="150.68" y="259.44" style="fill: #008000; stroke: #000000; stroke-opacity: 0; stroke-linejoin: miter"/>
     <use href="#m6a150d3398" x="162.28" y="258.12" style="fill: #008000; stroke: #000000; stroke-opacity: 0; stroke-linejoin: miter"/>
     <use href="#m6a150d3398" x="171.36" y="259" style="fill: #008000; stroke: #000000; stroke-opacity: 0; stroke-linejoin: miter"/>
     <use href="#m6a150d3398" x="177.96" y="264.44" style="fill: #008000; stroke: #000000; stroke-opacity: 0; stroke-linejoin: miter"/>
     <use href="#m6a150d3398" x="182.2" y="266.04" style="fill: #008000; stroke: #000000; stroke-opacity: 0; stroke-linejoin: miter"/>
     <use href="#m6a150d3398" x="206.4" y="258.56" style="fill: #008000; stroke: #000000; stroke-opacity: 0; stroke-linejoin: miter"/>
    </g>
   </g>
   <g id="line2d_61">
    <defs>
     <path id="m5095036b6d" d="M 0 2.125 
C 0.563557 2.125 1.104107 1.901097 1.502602 1.502602 
C 1.901097 1.104107 2.125 0.563557 2.125 0 
C 2.125 -0.563557 1.901097 -1.104107 1.502602 -1.502602 
C 1.104107 -1.901097 0.563557 -2.125 0 -2.125 
C -0.563557 -2.125 -1.104107 -1.901097 -1.502602 -1.502602 
C -1.901097 -1.104107 -2.125 -0.563557 -2.125 0 
C -2.125 0.563557 -1.901097 1.104107 -1.502602 1.502602 
C -1.104107 1.901097 -0.563557 2.125 0 2.125 
z
" style="stroke: #000000; stroke-opacity: 0"/>
    </defs>
    <g clip-path="url(#p6cc1662a9c)">
     <use href="#m5095036b6d" x="88.08" y="242.44" style="fill: #ffa500; stroke: #000000; stroke-opacity: 0"/>
     <use href="#m5095036b6d" x="94.96" y="241.12" style="fill: #ffa500; stroke: #000000; stroke-opacity: 0"/>
     <use href="#m5095036b6d" x="102.72" y="239.36" style="fill: #ffa500; stroke: #000000; stroke-opacity: 0"/>
     <use href="#m5095036b6d" x="110.96" y="236.84" style="fill: #ffa500; stroke: #000000; stroke-opacity: 0"/>
     <use href="#m5095036b6d" x="119.32" y="233.64" style="fill: #ffa500; stroke: #000000; stroke-opacity: 0"/>
     <use href="#m5095036b6d" x="126.64" y="230.4" style="fill: #ffa500; stroke: #000000; stroke-opacity: 0"/>
     <use href="#m5095036b6d" x="131.48" y="229.8" style="fill: #ffa500; stroke: #000000; stroke-opacity: 0"/>
     <use href="#m5095036b6d" x="134.12" y="235.08" style="fill: #ffa500; stroke: #000000; stroke-opacity: 0"/>
     <use href="#m5095036b6d" x="137.4" y="238.76" style="fill: #ffa500; stroke: #000000; stroke-opacity: 0"/>
     <use href="#m5095036b6d" x="159.64" y="242.88" style="fill: #ffa500; stroke: #000000; stroke-opacity: 0"/>
    </g>
   </g>
   <g id="line2d_62">
    <defs>
     <path id="md649d78eec" d="M 0 -2.2 
L -2.2 2.2 
L 2.2 2.2 
z
" style="stroke: #000000; stroke-opacity: 0; stroke-linejoin: miter"/>
    </defs>
    <g clip-path="url(#p6cc1662a9c)">
     <use href="#md649d78eec" x="91.88" y="249.6" style="fill: #ffa500; stroke: #000000; stroke-opacity: 0; stroke-linejoin: miter"/>
     <use href="#md649d78eec" x="100.08" y="248.44" style="fill: #ffa500; stroke: #000000; stroke-opacity: 0; stroke-linejoin: miter"/>
     <use href="#md649d78eec" x="109.04" y="246.96" style="fill: #ffa500; stroke: #000000; stroke-opacity: 0; stroke-linejoin: miter"/>
     <use href="#md649d78eec" x="119.16" y="244.32" style="fill: #ffa500; stroke: #000000; stroke-opacity: 0; stroke-linejoin: miter"/>
     <use href="#md649d78eec" x="129.28" y="240.52" style="fill: #ffa500; stroke: #000000; stroke-opacity: 0; stroke-linejoin: miter"/>
     <use href="#md649d78eec" x="138.8" y="236.12" style="fill: #ffa500; stroke: #000000; stroke-opacity: 0; stroke-linejoin: miter"/>
     <use href="#md649d78eec" x="145.32" y="233.04" style="fill: #ffa500; stroke: #000000; stroke-opacity: 0; stroke-linejoin: miter"/>
     <use href="#md649d78eec" x="147.76" y="236.72" style="fill: #ffa500; stroke: #000000; stroke-opacity: 0; stroke-linejoin: miter"/>
     <use href="#md649d78eec" x="149.96" y="240.24" style="fill: #ffa500; stroke: #000000; stroke-opacity: 0; stroke-linejoin: miter"/>
     <use href="#md649d78eec" x="166.68" y="244.64" style="fill: #ffa500; stroke: #000000; stroke-opacity: 0; stroke-linejoin: miter"/>
    </g>
   </g>
  </g>
  <g id="axes_4">
   <g id="patch_17">
    <path d="M 310.08 227.8 
L 399.52 227.8 
L 399.52 41.32 
L 310.08 41.32 
z
" style="fill: #ffffff"/>
   </g>
   <g id="matplotlib.axis_7">
    <g id="xtick_22">
     <g id="line2d_63">
      <g>
       <use href="#m1504cfccaf" x="328.24" y="227.8" style="stroke: #000000; stroke-width: 0.8"/>
      </g>
     </g>
     <g id="text_30">
      <text style="font-size: 10px; font-family: 'Liberation Sans', sans-serif; stroke: #000; stroke-width: 0.080px; text-anchor: middle" x="328.24" y="242.398438" transform="rotate(-0 328.24 242.398438)" textLength="15.903" lengthAdjust="spacingAndGlyphs">0.0</text>
     </g>
    </g>
    <g id="xtick_23">
     <g id="line2d_64">
      <g>
       <use href="#m1504cfccaf" x="371.28" y="227.8" style="stroke: #000000; stroke-width: 0.8"/>
      </g>
     </g>
     <g id="text_31">
      <text style="font-size: 10px; font-family: 'Liberation Sans', sans-serif; stroke: #000; stroke-width: 0.080px; text-anchor: middle" x="371.28" y="242.398438" transform="rotate(-0 371.28 242.398438)" textLength="15.903" lengthAdjust="spacingAndGlyphs">2.5</text>
     </g>
    </g>
    <g id="text_32">
     <g transform="translate(328.45 256.076563)">
      <text>
       <tspan x="0" y="-0.40625" style="font-size: 10px; font-family: 'Liberation Sans', sans-serif; stroke: #000; stroke-width: 0.080px" textLength="7.700" lengthAdjust="spacingAndGlyphs">D</tspan>
       <tspan x="7.700195" y="-0.40625" style="font-size: 10px; font-family: 'Liberation Sans', sans-serif; stroke: #000; stroke-width: 0.080px" textLength="6.152" lengthAdjust="spacingAndGlyphs">e</tspan>
       <tspan x="13.9365" y="-0.40625" style="font-size: 10px; font-family: 'Liberation Sans', sans-serif; stroke: #000; stroke-width: 0.080px" textLength="5.750" lengthAdjust="spacingAndGlyphs">v</tspan>
       <tspan x="19.8064" y="-0.40625" style="font-size: 10px; font-family: 'Liberation Sans', sans-serif; stroke: #000; stroke-width: 0.080px" textLength="3.830" lengthAdjust="spacingAndGlyphs">(</tspan>
       <tspan x="42.3811" y="-0.40625" style="font-size: 10px; font-family: 'Liberation Sans', sans-serif; stroke: #000; stroke-width: 0.080px" textLength="3.830" lengthAdjust="spacingAndGlyphs">)</tspan>
       
       
       <tspan x="23.671875" y="-0.40625" style="font-size: 10px; font-family: 'Liberation Sans', sans-serif; stroke: #000; stroke-width: 0.080px; font-style: italic" textLength="8.628" lengthAdjust="spacingAndGlyphs">M</tspan>
       <tspan x="32.5539" y="1.234375" style="font-size: 7px; font-family: 'Liberation Sans', sans-serif; stroke: #000; stroke-width: 0.056px; font-style: italic" textLength="2.237" lengthAdjust="spacingAndGlyphs">t</tspan>
       <tspan x="35.044434" y="1.234375" style="font-size: 7px; font-family: 'Liberation Sans', sans-serif; stroke: #000; stroke-width: 0.056px; font-style: italic" textLength="4.283" lengthAdjust="spacingAndGlyphs">o</tspan>
       <tspan x="39.5812" y="1.234375" style="font-size: 7px; font-family: 'Liberation Sans', sans-serif; stroke: #000; stroke-width: 0.056px; font-style: italic" textLength="2.237" lengthAdjust="spacingAndGlyphs">t</tspan>
      </text>
     </g>
     <text style="font-size: 10px; font-family: 'Liberation Sans', sans-serif; stroke: #000; stroke-width: 0.080px" transform="translate(346.147656 267.274375)" textLength="17.305" lengthAdjust="spacingAndGlyphs">(%)</text>
    </g>
   </g>
   <g id="matplotlib.axis_8">
    <g id="ytick_10">
     <g id="line2d_65">
      <g>
       <use href="#m5d545ce8f8" x="310.08" y="204" style="stroke: #000000; stroke-width: 0.8"/>
      </g>
     </g>
    </g>
    <g id="ytick_11">
     <g id="line2d_66">
      <g>
       <use href="#m5d545ce8f8" x="310.08" y="166.15" style="stroke: #000000; stroke-width: 0.8"/>
      </g>
     </g>
    </g>
    <g id="ytick_12">
     <g id="line2d_67">
      <g>
       <use href="#m5d545ce8f8" x="310.08" y="128.3" style="stroke: #000000; stroke-width: 0.8"/>
      </g>
     </g>
    </g>
    <g id="ytick_13">
     <g id="line2d_68">
      <g>
       <use href="#m5d545ce8f8" x="310.08" y="90.45" style="stroke: #000000; stroke-width: 0.8"/>
      </g>
     </g>
    </g>
    <g id="ytick_14">
     <g id="line2d_69">
      <g>
       <use href="#m5d545ce8f8" x="310.08" y="52.6" style="stroke: #000000; stroke-width: 0.8"/>
      </g>
     </g>
    </g>
   </g>
   <g id="patch_18">
    <path d="M 310.08 227.8 
L 310.08 41.32 
" style="fill: none; stroke: #000000; stroke-width: 0.8; stroke-linejoin: miter; stroke-linecap: square"/>
   </g>
   <g id="patch_19">
    <path d="M 399.52 227.8 
L 399.52 41.32 
" style="fill: none; stroke: #000000; stroke-width: 0.8; stroke-linejoin: miter; stroke-linecap: square"/>
   </g>
   <g id="patch_20">
    <path d="M 310.08 227.8 
L 399.52 227.8 
" style="fill: none; stroke: #000000; stroke-width: 0.8; stroke-linejoin: miter; stroke-linecap: square"/>
   </g>
   <g id="patch_21">
    <path d="M 310.08 41.32 
L 399.52 41.32 
" style="fill: none; stroke: #000000; stroke-width: 0.8; stroke-linejoin: miter; stroke-linecap: square"/>
   </g>
   <g id="line2d_70">
    <g clip-path="url(#p952ec9508e)">
     <use href="#mb5287e0153" x="349.88" y="79.32" style="fill: #ffa500; stroke: #000000; stroke-opacity: 0"/>
     <use href="#mb5287e0153" x="346.64" y="81.2" style="fill: #ffa500; stroke: #000000; stroke-opacity: 0"/>
     <use href="#mb5287e0153" x="343.04" y="84.56" style="fill: #ffa500; stroke: #000000; stroke-opacity: 0"/>
     <use href="#mb5287e0153" x="339.08" y="90.68" style="fill: #ffa500; stroke: #000000; stroke-opacity: 0"/>
     <use href="#mb5287e0153" x="336.12" y="100.92" style="fill: #ffa500; stroke: #000000; stroke-opacity: 0"/>
     <use href="#mb5287e0153" x="333.2" y="117.44" style="fill: #ffa500; stroke: #000000; stroke-opacity: 0"/>
     <use href="#mb5287e0153" x="329.56" y="142.36" style="fill: #ffa500; stroke: #000000; stroke-opacity: 0"/>
     <use href="#mb5287e0153" x="322.36" y="176.8" style="fill: #ffa500; stroke: #000000; stroke-opacity: 0"/>
     <use href="#mb5287e0153" x="318.72" y="191.6" style="fill: #ffa500; stroke: #000000; stroke-opacity: 0"/>
     <use href="#mb5287e0153" x="318.56" y="212.56" style="fill: #ffa500; stroke: #000000; stroke-opacity: 0"/>
    </g>
   </g>
   <g id="line2d_71">
    <g clip-path="url(#p952ec9508e)">
     <use href="#mbd43150556" x="377.24" y="73.76" style="fill: #008000; stroke: #000000; stroke-opacity: 0"/>
     <use href="#mbd43150556" x="369.4" y="74.92" style="fill: #008000; stroke: #000000; stroke-opacity: 0"/>
     <use href="#mbd43150556" x="363.12" y="78.08" style="fill: #008000; stroke: #000000; stroke-opacity: 0"/>
     <use href="#mbd43150556" x="355.72" y="83.84" style="fill: #008000; stroke: #000000; stroke-opacity: 0"/>
     <use href="#mbd43150556" x="350.04" y="94" style="fill: #008000; stroke: #000000; stroke-opacity: 0"/>
     <use href="#mbd43150556" x="345.76" y="110.88" style="fill: #008000; stroke: #000000; stroke-opacity: 0"/>
     <use href="#mbd43150556" x="340.88" y="136.52" style="fill: #008000; stroke: #000000; stroke-opacity: 0"/>
     <use href="#mbd43150556" x="330.56" y="173" style="fill: #008000; stroke: #000000; stroke-opacity: 0"/>
     <use href="#mbd43150556" x="325.92" y="188.88" style="fill: #008000; stroke: #000000; stroke-opacity: 0"/>
     <use href="#mbd43150556" x="328.44" y="211.48" style="fill: #008000; stroke: #000000; stroke-opacity: 0"/>
    </g>
   </g>
   <g id="line2d_72">
    <g clip-path="url(#p952ec9508e)">
     <use href="#m608933609a" x="395.52" y="67.2" style="fill: #ff0000; stroke: #000000; stroke-opacity: 0"/>
     <use href="#m608933609a" x="386.68" y="68.36" style="fill: #ff0000; stroke: #000000; stroke-opacity: 0"/>
     <use href="#m608933609a" x="376.44" y="70.88" style="fill: #ff0000; stroke: #000000; stroke-opacity: 0"/>
     <use href="#m608933609a" x="366.88" y="76.2" style="fill: #ff0000; stroke: #000000; stroke-opacity: 0"/>
     <use href="#m608933609a" x="360.4" y="86.16" style="fill: #ff0000; stroke: #000000; stroke-opacity: 0"/>
     <use href="#m608933609a" x="356.52" y="103.28" style="fill: #ff0000; stroke: #000000; stroke-opacity: 0"/>
     <use href="#m608933609a" x="354.44" y="130.16" style="fill: #ff0000; stroke: #000000; stroke-opacity: 0"/>
     <use href="#m608933609a" x="347.28" y="169.12" style="fill: #ff0000; stroke: #000000; stroke-opacity: 0"/>
     <use href="#m608933609a" x="344.2" y="186.28" style="fill: #ff0000; stroke: #000000; stroke-opacity: 0"/>
     <use href="#m608933609a" x="348.96" y="210.76" style="fill: #ff0000; stroke: #000000; stroke-opacity: 0"/>
    </g>
   </g>
   <g id="line2d_73">
    <g clip-path="url(#p952ec9508e)">
     <use href="#m29fc046956" x="339" y="67.2" style="fill: #ffa500; stroke: #000000; stroke-opacity: 0; stroke-linejoin: miter"/>
     <use href="#m29fc046956" x="336.56" y="67.92" style="fill: #ffa500; stroke: #000000; stroke-opacity: 0; stroke-linejoin: miter"/>
     <use href="#m29fc046956" x="332.96" y="70.6" style="fill: #ffa500; stroke: #000000; stroke-opacity: 0; stroke-linejoin: miter"/>
     <use href="#m29fc046956" x="330.24" y="75.12" style="fill: #ffa500; stroke: #000000; stroke-opacity: 0; stroke-linejoin: miter"/>
     <use href="#m29fc046956" x="327.12" y="84.28" style="fill: #ffa500; stroke: #000000; stroke-opacity: 0; stroke-linejoin: miter"/>
     <use href="#m29fc046956" x="326.04" y="101" style="fill: #ffa500; stroke: #000000; stroke-opacity: 0; stroke-linejoin: miter"/>
     <use href="#m29fc046956" x="324.92" y="127.52" style="fill: #ffa500; stroke: #000000; stroke-opacity: 0; stroke-linejoin: miter"/>
     <use href="#m29fc046956" x="319.64" y="166.76" style="fill: #ffa500; stroke: #000000; stroke-opacity: 0; stroke-linejoin: miter"/>
     <use href="#m29fc046956" x="316.32" y="184.4" style="fill: #ffa500; stroke: #000000; stroke-opacity: 0; stroke-linejoin: miter"/>
     <use href="#m29fc046956" x="314.04" y="208.52" style="fill: #ffa500; stroke: #000000; stroke-opacity: 0; stroke-linejoin: miter"/>
    </g>
   </g>
   <g id="line2d_74">
    <g clip-path="url(#p952ec9508e)">
     <use href="#mc2b58c1543" x="350.04" y="59.16" style="fill: #008000; stroke: #000000; stroke-opacity: 0; stroke-linejoin: miter"/>
     <use href="#mc2b58c1543" x="344.2" y="59.6" style="fill: #008000; stroke: #000000; stroke-opacity: 0; stroke-linejoin: miter"/>
     <use href="#mc2b58c1543" x="338.16" y="61.88" style="fill: #008000; stroke: #000000; stroke-opacity: 0; stroke-linejoin: miter"/>
     <use href="#mc2b58c1543" x="332.52" y="66.72" style="fill: #008000; stroke: #000000; stroke-opacity: 0; stroke-linejoin: miter"/>
     <use href="#mc2b58c1543" x="328.64" y="76.2" style="fill: #008000; stroke: #000000; stroke-opacity: 0; stroke-linejoin: miter"/>
     <use href="#mc2b58c1543" x="328" y="93.12" style="fill: #008000; stroke: #000000; stroke-opacity: 0; stroke-linejoin: miter"/>
     <use href="#mc2b58c1543" x="328.32" y="120.6" style="fill: #008000; stroke: #000000; stroke-opacity: 0; stroke-linejoin: miter"/>
     <use href="#mc2b58c1543" x="321.96" y="161.84" style="fill: #008000; stroke: #000000; stroke-opacity: 0; stroke-linejoin: miter"/>
     <use href="#mc2b58c1543" x="317.4" y="180.6" style="fill: #008000; stroke: #000000; stroke-opacity: 0; stroke-linejoin: miter"/>
     <use href="#mc2b58c1543" x="318.8" y="206.72" style="fill: #008000; stroke: #000000; stroke-opacity: 0; stroke-linejoin: miter"/>
    </g>
   </g>
   <g id="line2d_75">
    <g clip-path="url(#p952ec9508e)">
     <use href="#m9a5f237e75" x="346" y="50.08" style="fill: #ff0000; stroke: #000000; stroke-opacity: 0; stroke-linejoin: miter"/>
     <use href="#m9a5f237e75" x="338.16" y="50.36" style="fill: #ff0000; stroke: #000000; stroke-opacity: 0; stroke-linejoin: miter"/>
     <use href="#m9a5f237e75" x="330.24" y="52.32" style="fill: #ff0000; stroke: #000000; stroke-opacity: 0; stroke-linejoin: miter"/>
     <use href="#m9a5f237e75" x="323.52" y="56.92" style="fill: #ff0000; stroke: #000000; stroke-opacity: 0; stroke-linejoin: miter"/>
     <use href="#m9a5f237e75" x="320.16" y="66.56" style="fill: #ff0000; stroke: #000000; stroke-opacity: 0; stroke-linejoin: miter"/>
     <use href="#m9a5f237e75" x="323.04" y="83.84" style="fill: #ff0000; stroke: #000000; stroke-opacity: 0; stroke-linejoin: miter"/>
     <use href="#m9a5f237e75" x="329.72" y="112.64" style="fill: #ff0000; stroke: #000000; stroke-opacity: 0; stroke-linejoin: miter"/>
     <use href="#m9a5f237e75" x="329.68" y="156.72" style="fill: #ff0000; stroke: #000000; stroke-opacity: 0; stroke-linejoin: miter"/>
     <use href="#m9a5f237e75" x="327.84" y="176.8" style="fill: #ff0000; stroke: #000000; stroke-opacity: 0; stroke-linejoin: miter"/>
     <use href="#m9a5f237e75" x="335.48" y="205.8" style="fill: #ff0000; stroke: #000000; stroke-opacity: 0; stroke-linejoin: miter"/>
    </g>
   </g>
  </g>
  <g id="axes_5">
   <g id="patch_22">
    <path d="M 42 562.76 
L 310.08 562.76 
L 310.08 376.28 
L 42 376.28 
z
" style="fill: #ffffff"/>
   </g>
   <g id="matplotlib.axis_9">
    <g id="xtick_24">
     <g id="line2d_76">
      <g>
       <use href="#m1504cfccaf" x="72.84" y="562.76" style="stroke: #000000; stroke-width: 0.8"/>
      </g>
     </g>
    </g>
    <g id="xtick_25">
     <g id="line2d_77">
      <g>
       <use href="#m1504cfccaf" x="110.333333" y="562.76" style="stroke: #000000; stroke-width: 0.8"/>
      </g>
     </g>
    </g>
    <g id="xtick_26">
     <g id="line2d_78">
      <g>
       <use href="#m1504cfccaf" x="147.826667" y="562.76" style="stroke: #000000; stroke-width: 0.8"/>
      </g>
     </g>
    </g>
    <g id="xtick_27">
     <g id="line2d_79">
      <g>
       <use href="#m1504cfccaf" x="185.32" y="562.76" style="stroke: #000000; stroke-width: 0.8"/>
      </g>
     </g>
    </g>
    <g id="xtick_28">
     <g id="line2d_80">
      <g>
       <use href="#m1504cfccaf" x="222.813333" y="562.76" style="stroke: #000000; stroke-width: 0.8"/>
      </g>
     </g>
    </g>
    <g id="xtick_29">
     <g id="line2d_81">
      <g>
       <use href="#m1504cfccaf" x="260.306667" y="562.76" style="stroke: #000000; stroke-width: 0.8"/>
      </g>
     </g>
    </g>
    <g id="xtick_30">
     <g id="line2d_82">
      <g>
       <use href="#m1504cfccaf" x="297.8" y="562.76" style="stroke: #000000; stroke-width: 0.8"/>
      </g>
     </g>
    </g>
   </g>
   <g id="matplotlib.axis_10">
    <g id="ytick_15">
     <g id="line2d_83">
      <g>
       <use href="#m5d545ce8f8" x="42" y="538.96" style="stroke: #000000; stroke-width: 0.8"/>
      </g>
     </g>
     <g id="text_33">
      <text style="font-size: 10px; font-family: 'Liberation Sans', sans-serif; stroke: #000; stroke-width: 0.080px; text-anchor: end" x="35" y="542.759219" transform="rotate(-0 35 542.759219)" textLength="15.903" lengthAdjust="spacingAndGlyphs">0.5</text>
     </g>
    </g>
    <g id="ytick_16">
     <g id="line2d_84">
      <g>
       <use href="#m5d545ce8f8" x="42" y="501.066667" style="stroke: #000000; stroke-width: 0.8"/>
      </g>
     </g>
     <g id="text_34">
      <text style="font-size: 10px; font-family: 'Liberation Sans', sans-serif; stroke: #000; stroke-width: 0.080px; text-anchor: end" x="35" y="504.865885" transform="rotate(-0 35 504.865885)" textLength="15.903" lengthAdjust="spacingAndGlyphs">1.0</text>
     </g>
    </g>
    <g id="ytick_17">
     <g id="line2d_85">
      <g>
       <use href="#m5d545ce8f8" x="42" y="463.173333" style="stroke: #000000; stroke-width: 0.8"/>
      </g>
     </g>
     <g id="text_35">
      <text style="font-size: 10px; font-family: 'Liberation Sans', sans-serif; stroke: #000; stroke-width: 0.080px; text-anchor: end" x="35" y="466.972552" transform="rotate(-0 35 466.972552)" textLength="15.903" lengthAdjust="spacingAndGlyphs">1.5</text>
     </g>
    </g>
    <g id="ytick_18">
     <g id="line2d_86">
      <g>
       <use href="#m5d545ce8f8" x="42" y="425.28" style="stroke: #000000; stroke-width: 0.8"/>
      </g>
     </g>
     <g id="text_36">
      <text style="font-size: 10px; font-family: 'Liberation Sans', sans-serif; stroke: #000; stroke-width: 0.080px; text-anchor: end" x="35" y="429.079219" transform="rotate(-0 35 429.079219)" textLength="15.903" lengthAdjust="spacingAndGlyphs">2.0</text>
     </g>
    </g>
    <g id="ytick_19">
     <g id="line2d_87">
      <g>
       <use href="#m5d545ce8f8" x="42" y="387.386667" style="stroke: #000000; stroke-width: 0.8"/>
      </g>
     </g>
     <g id="text_37">
      <text style="font-size: 10px; font-family: 'Liberation Sans', sans-serif; stroke: #000; stroke-width: 0.080px; text-anchor: end" x="35" y="391.185885" transform="rotate(-0 35 391.185885)" textLength="15.903" lengthAdjust="spacingAndGlyphs">2.5</text>
     </g>
    </g>
    <g id="text_38">
     <g transform="translate(11.977344 504.995) rotate(-90)">
      <text>
       <tspan x="0" y="-0.609375" style="font-size: 15px; font-family: 'Liberation Sans', sans-serif; stroke: #000; stroke-width: 0.120px; font-style: italic" textLength="12.942" lengthAdjust="spacingAndGlyphs">M</tspan>
       <tspan x="13.3230" y="1.851562" style="font-size: 10.5px; font-family: 'Liberation Sans', sans-serif; stroke: #000; stroke-width: 0.084px; font-style: italic" textLength="3.355" lengthAdjust="spacingAndGlyphs">t</tspan>
       <tspan x="17.058838" y="1.851562" style="font-size: 10.5px; font-family: 'Liberation Sans', sans-serif; stroke: #000; stroke-width: 0.084px; font-style: italic" textLength="6.424" lengthAdjust="spacingAndGlyphs">o</tspan>
       <tspan x="23.8640" y="1.851562" style="font-size: 10.5px; font-family: 'Liberation Sans', sans-serif; stroke: #000; stroke-width: 0.084px; font-style: italic" textLength="3.355" lengthAdjust="spacingAndGlyphs">t</tspan>
       
       <tspan x="33.3079" y="-0.609375" style="font-size: 15px; font-family: 'Liberation Sans', sans-serif; stroke: #000; stroke-width: 0.120px" textLength="4.793" lengthAdjust="spacingAndGlyphs">[</tspan>
       <tspan x="38.630127" y="-0.609375" style="font-size: 15px; font-family: 'Liberation Sans', sans-serif; stroke: #000; stroke-width: 0.120px" textLength="12.942" lengthAdjust="spacingAndGlyphs">M</tspan>
       <tspan x="65.5447" y="-0.609375" style="font-size: 15px; font-family: 'Liberation Sans', sans-serif; stroke: #000; stroke-width: 0.120px" textLength="4.793" lengthAdjust="spacingAndGlyphs">]</tspan>
       </text><circle cx="58.161" cy="-1.445" r="3.050" style="fill:none;stroke:#000;stroke-width:0.787"/><circle cx="58.161" cy="-1.445" r="0.787" style="fill:#000"/>
     </g>
    </g>
   </g>
   <g id="line2d_88">
    <path d="M 91.2 401.92 
L 94.516989 401.852801 
L 97.731461 401.995666 
L 100.841747 402.340417 
L 103.847758 402.879322 
L 106.749406 403.604653 
L 109.546603 404.50868 
L 112.239261 405.583671 
L 114.827292 406.821898 
L 117.310609 408.215629 
L 120.267366 410.164697 
L 123.060198 412.329565 
L 125.688932 414.695136 
L 128.153397 417.246312 
L 130.45342 419.967996 
L 132.588832 422.845089 
L 134.559459 425.862495 
L 136.365129 429.005114 
L 138.005672 432.25785 
L 139.480916 435.605604 
L 141.032771 439.727077 
L 142.347706 443.938674 
L 143.441529 448.225274 
L 144.337497 452.576827 
L 145.163837 457.722384 
L 145.864838 463.674217 
L 146.409219 470.432453 
L 146.834213 478.734721 
L 147.907551 503.325887 
L 148.508276 509.79572 
L 149.165514 514.715264 
L 149.76 518.16 
L 152.32 526.48 
L 157.44 535.44 
L 167.68 543.76 
L 184.96 550.16 
L 184.96 550.16 
" clip-path="url(#p1aec967e36)" style="fill: none; stroke: #ffa500; stroke-width: 1.5; stroke-linecap: square"/>
   </g>
   <g id="line2d_89">
    <path d="M 81.8 412 
L 85.541257 412.281197 
L 89.123346 412.814745 
L 92.546627 413.588802 
L 95.813661 414.592549 
L 98.927008 415.815171 
L 101.889229 417.245849 
L 104.702886 418.873767 
L 107.370539 420.688106 
L 109.894751 422.67805 
L 112.278081 424.832782 
L 114.523091 427.141485 
L 116.632342 429.59334 
L 118.987847 432.709299 
L 121.155973 435.997128 
L 123.141144 439.438137 
L 124.947788 443.013634 
L 126.580328 446.704925 
L 128.270816 451.132846 
L 129.737661 455.663519 
L 130.995659 460.274723 
L 132.207107 465.624834 
L 133.210623 471.040425 
L 134.134454 477.185211 
L 135.038554 484.72872 
L 136.088273 495.660513 
L 137.555406 510.985567 
L 138.451902 518.025359 
L 138.64 519.28 
L 156.44 543.04 
L 156.44 543.04 
" clip-path="url(#p1aec967e36)" style="fill: none; stroke-dasharray: 5.55,2.4; stroke-dashoffset: 0; stroke: #ffa500; stroke-width: 1.5"/>
   </g>
   <g id="line2d_90">
    <path d="M 108 393.96 
L 111.646294 393.867071 
L 115.195434 394.011491 
L 118.646 394.384375 
L 121.997603 394.976974 
L 125.249852 395.780539 
L 128.402358 396.786318 
L 131.45473 397.985564 
L 134.406578 399.369527 
L 137.257514 400.929456 
L 140.007146 402.656603 
L 142.655085 404.542217 
L 145.821408 407.108751 
L 148.827465 409.89213 
L 151.672494 412.875266 
L 154.355733 416.04107 
L 156.876421 419.372452 
L 159.233796 422.852324 
L 161.427096 426.463596 
L 163.45556 430.18918 
L 165.318426 434.011986 
L 167.334205 438.703626 
L 169.109109 443.481129 
L 170.643348 448.316019 
L 171.95594 453.192861 
L 173.249468 458.926673 
L 174.476268 465.525228 
L 175.626221 472.988405 
L 177.394054 486.294287 
L 178.923231 497.069322 
L 180.078001 503.646258 
L 181.136446 508.530333 
L 182.417033 513.35791 
L 183.691056 517.328112 
L 185.184949 521.242101 
L 186.2 523.56 
L 193.36 533.16 
L 206.08 541.84 
L 228.08 548.88 
L 228.08 548.88 
" clip-path="url(#p1aec967e36)" style="fill: none; stroke: #008000; stroke-width: 1.5; stroke-linecap: square"/>
   </g>
   <g id="line2d_91">
    <path d="M 95.72 405.6 
L 98.910048 405.474287 
L 102.051614 405.533192 
L 105.139829 405.770825 
L 108.919936 406.310332 
L 112.604826 407.10863 
L 116.187911 408.154346 
L 119.662604 409.436104 
L 123.022318 410.942531 
L 126.260465 412.662253 
L 129.370458 414.583897 
L 132.345711 416.696089 
L 135.179635 418.987454 
L 137.865643 421.44662 
L 140.397296 424.062218 
L 142.772725 426.823091 
L 144.99539 429.718328 
L 147.06905 432.737029 
L 149.36605 436.507099 
L 151.460398 440.42043 
L 153.358589 444.45819 
L 155.067123 448.601546 
L 156.592497 452.831664 
L 158.152465 457.852603 
L 159.508322 462.946428 
L 161.017041 469.573965 
L 162.620043 477.742394 
L 166.53945 498.417724 
L 168.065861 504.888902 
L 169.440066 509.820576 
L 171.022409 514.6439 
L 171.52 516 
L 172.8 518.56 
L 195.84 542.24 
L 195.84 542.24 
" clip-path="url(#p1aec967e36)" style="fill: none; stroke-dasharray: 5.55,2.4; stroke-dashoffset: 0; stroke: #008000; stroke-width: 1.5"/>
   </g>
   <g id="under_solid_837">
    <path d="M 130.56 384.72 
L 134.251221 384.532934 
L 137.891013 384.559864 
L 141.473183 384.794877 
L 144.992948 385.231593 
L 148.445525 385.863632 
L 151.82613 386.684617 
L 155.129979 387.688167 
L 158.35229 388.867903 
L 161.488278 390.217448 
L 164.53316 391.730421 
L 167.482152 393.400443 
L 170.330472 395.221136 
L 173.742528 397.69908 
L 176.987893 400.388787 
L 180.068461 403.275937 
L 182.986206 406.346194 
L 185.743103 409.58522 
L 188.341127 412.978681 
L 190.782254 416.512241 
L 193.068458 420.171564 
L 195.610185 424.708573 
L 197.935079 429.381264 
L 200.046554 434.164864 
L 201.952362 439.036207 
L 203.951737 444.808863 
L 206.002988 451.496303 
L 208.326654 459.941129 
L 214.856832 484.382019 
L 216.944472 490.957985 
L 218.985848 496.601973 
L 220.935206 501.339903 
L 223.102326 505.970641 
L 225.097506 509.737389 
L 225.52 510.48 
L 233.2 521.36 
L 244.72 531.6 
L 261.36 540.56 
L 289.52 548.24 
L 289.52 548.24 
" clip-path="url(#p1aec967e36)" style="fill: none; stroke: #ff0000; stroke-width: 1.5; stroke-linecap: square"/>
   </g>
   <g id="under_dashed_837">
    <path d="M 114.28 399.56 
L 117.815628 399.062732 
L 121.323849 398.77445 
L 124.798435 398.69025 
L 128.234546 398.804259 
L 131.627339 399.110606 
L 134.971976 399.603418 
L 138.263614 400.276825 
L 141.497412 401.124955 
L 145.45095 402.421875 
L 149.297095 403.971156 
L 153.026392 405.76133 
L 156.629387 407.780929 
L 160.096644 410.018479 
L 163.421557 412.461593 
L 166.60339 415.095995 
L 169.642136 417.907173 
L 172.53779 420.880617 
L 175.290343 424.001814 
L 177.899791 427.256254 
L 180.842218 431.317029 
L 183.580615 435.524893 
L 186.128904 439.86282 
L 188.505248 444.316234 
L 191.084568 449.638404 
L 193.483429 455.074785 
L 196.041022 461.397957 
L 199.025151 469.416564 
L 202.95631 480.735708 
L 208.777214 497.546137 
L 211.712641 505.323255 
L 214.215688 511.375959 
L 215.2 513.6 
L 232.8 526 
L 250.4 540.4 
L 250.4 540.4 
" clip-path="url(#p1aec967e36)" style="fill: none; stroke-dasharray: 5.55,2.4; stroke-dashoffset: 0; stroke: #ff0000; stroke-width: 1.5"/>
   </g>
   <g id="patch_23">
    <path d="M 42 562.76 
L 42 376.28 
" style="fill: none; stroke: #000000; stroke-width: 0.8; stroke-linejoin: miter; stroke-linecap: square"/>
   </g>
   <g id="patch_24">
    <path d="M 310.08 562.76 
L 310.08 376.28 
" style="fill: none; stroke: #000000; stroke-width: 0.8; stroke-linejoin: miter; stroke-linecap: square"/>
   </g>
   <g id="patch_25">
    <path d="M 42 562.76 
L 310.08 562.76 
" style="fill: none; stroke: #000000; stroke-width: 0.8; stroke-linejoin: miter; stroke-linecap: square"/>
   </g>
   <g id="patch_26">
    <path d="M 42 376.28 
L 310.08 376.28 
" style="fill: none; stroke: #000000; stroke-width: 0.8; stroke-linejoin: miter; stroke-linecap: square"/>
   </g>
   <g id="line2d_92">
    <g clip-path="url(#p1aec967e36)">
     <use href="#mb5287e0153" x="67.88" y="418.48" style="fill: #ffa500; stroke: #000000; stroke-opacity: 0"/>
     <use href="#mb5287e0153" x="75.08" y="419.48" style="fill: #ffa500; stroke: #000000; stroke-opacity: 0"/>
     <use href="#mb5287e0153" x="82.6" y="421.6" style="fill: #ffa500; stroke: #000000; stroke-opacity: 0"/>
     <use href="#mb5287e0153" x="91" y="425.8" style="fill: #ffa500; stroke: #000000; stroke-opacity: 0"/>
     <use href="#mb5287e0153" x="100.28" y="434.48" style="fill: #ffa500; stroke: #000000; stroke-opacity: 0"/>
     <use href="#mb5287e0153" x="107.8" y="449.2" style="fill: #ffa500; stroke: #000000; stroke-opacity: 0"/>
     <use href="#mb5287e0153" x="112.2" y="473.2" style="fill: #ffa500; stroke: #000000; stroke-opacity: 0"/>
     <use href="#mb5287e0153" x="113.8" y="507.6" style="fill: #ffa500; stroke: #000000; stroke-opacity: 0"/>
     <use href="#mb5287e0153" x="115" y="522.8" style="fill: #ffa500; stroke: #000000; stroke-opacity: 0"/>
     <use href="#mb5287e0153" x="128.8" y="544.8" style="fill: #ffa500; stroke: #000000; stroke-opacity: 0"/>
    </g>
   </g>
   <g id="line2d_93">
    <g clip-path="url(#p1aec967e36)">
     <use href="#mbd43150556" x="65.48" y="421" style="fill: #008000; stroke: #000000; stroke-opacity: 0"/>
     <use href="#mbd43150556" x="72.68" y="421.12" style="fill: #008000; stroke: #000000; stroke-opacity: 0"/>
     <use href="#mbd43150556" x="80.68" y="422.8" style="fill: #008000; stroke: #000000; stroke-opacity: 0"/>
     <use href="#mbd43150556" x="89.48" y="427" style="fill: #008000; stroke: #000000; stroke-opacity: 0"/>
     <use href="#mbd43150556" x="99.08" y="435.28" style="fill: #008000; stroke: #000000; stroke-opacity: 0"/>
     <use href="#mbd43150556" x="107.32" y="450.08" style="fill: #008000; stroke: #000000; stroke-opacity: 0"/>
     <use href="#mbd43150556" x="113" y="473.4" style="fill: #008000; stroke: #000000; stroke-opacity: 0"/>
     <use href="#mbd43150556" x="114.6" y="507.72" style="fill: #008000; stroke: #000000; stroke-opacity: 0"/>
     <use href="#mbd43150556" x="115.8" y="522.92" style="fill: #008000; stroke: #000000; stroke-opacity: 0"/>
     <use href="#mbd43150556" x="129.8" y="544.68" style="fill: #008000; stroke: #000000; stroke-opacity: 0"/>
    </g>
   </g>
   <g id="line2d_94">
    <g clip-path="url(#p1aec967e36)">
     <use href="#m608933609a" x="63.52" y="422.68" style="fill: #ff0000; stroke: #000000; stroke-opacity: 0"/>
     <use href="#m608933609a" x="71.2" y="422.2" style="fill: #ff0000; stroke: #000000; stroke-opacity: 0"/>
     <use href="#m608933609a" x="79.6" y="423.4" style="fill: #ff0000; stroke: #000000; stroke-opacity: 0"/>
     <use href="#m608933609a" x="88.88" y="427.28" style="fill: #ff0000; stroke: #000000; stroke-opacity: 0"/>
     <use href="#m608933609a" x="98.68" y="435.6" style="fill: #ff0000; stroke: #000000; stroke-opacity: 0"/>
     <use href="#m608933609a" x="107.32" y="450.4" style="fill: #ff0000; stroke: #000000; stroke-opacity: 0"/>
     <use href="#m608933609a" x="112.56" y="473.6" style="fill: #ff0000; stroke: #000000; stroke-opacity: 0"/>
     <use href="#m608933609a" x="114.2" y="508" style="fill: #ff0000; stroke: #000000; stroke-opacity: 0"/>
     <use href="#m608933609a" x="115.52" y="523" style="fill: #ff0000; stroke: #000000; stroke-opacity: 0"/>
     <use href="#m608933609a" x="129.4" y="545" style="fill: #ff0000; stroke: #000000; stroke-opacity: 0"/>
    </g>
   </g>
   <g id="line2d_95">
    <path d="M 78 408.48 
L 81.269992 408.497542 
L 84.43075 408.752165 
L 87.478659 409.232734 
L 90.412032 409.928706 
L 93.229182 410.829538 
L 95.928423 411.924687 
L 98.508068 413.203609 
L 100.966429 414.655762 
L 103.301821 416.270602 
L 105.512556 418.037585 
L 107.596948 419.94617 
L 109.55331 421.985812 
L 111.816422 424.703723 
L 113.878772 427.591654 
L 115.745936 430.632941 
L 117.42361 433.810971 
L 118.917493 437.109135 
L 120.233281 440.510819 
L 121.376673 443.999414 
L 122.529201 448.27706 
L 123.451529 452.627233 
L 124.154666 457.022963 
L 124.725828 462.192531 
L 125.067061 467.398072 
L 125.227275 473.380065 
L 125.186585 480.135983 
L 124.883112 489.906909 
L 124.384176 505.590801 
L 124.394766 512.225223 
L 124.618584 518.056522 
L 125.029384 523.097242 
L 125.573309 527.365073 
L 125.92 529.48 
L 130.12 537.32 
L 138.56 545.16 
L 153.2 551.36 
L 153.2 551.36 
" clip-path="url(#p1aec967e36)" style="fill: none; stroke: #0000ff; stroke-width: 1.5; stroke-linecap: square"/>
   </g>
   <g id="line2d_96">
    <path d="M 70.28 416.92 
L 73.157406 417.211262 
L 75.912407 417.669645 
L 78.546039 418.287812 
L 81.670858 419.275413 
L 84.614009 420.49005 
L 87.379918 421.91915 
L 89.973014 423.550142 
L 92.397722 425.370454 
L 94.658472 427.367514 
L 96.759689 429.52875 
L 98.705802 431.841591 
L 100.501237 434.293465 
L 102.150422 436.8718 
L 103.942629 440.11503 
L 105.538261 443.500536 
L 106.94497 447.006595 
L 108.170405 450.611482 
L 109.381177 454.913111 
L 110.370057 459.289762 
L 111.159289 463.727203 
L 111.847491 468.859058 
L 112.391838 474.690134 
L 112.770827 481.213718 
L 113.019334 489.714054 
L 113.570292 514.684529 
L 114.017703 520.798596 
L 114.2 522.6 
L 114.56 524.56 
L 128.08 543.72 
L 128.08 543.72 
" clip-path="url(#p1aec967e36)" style="fill: none; stroke-dasharray: 5.55,2.4; stroke-dashoffset: 0; stroke: #0000ff; stroke-width: 1.5"/>
   </g>
   <g id="legend_2">
    <g id="legframe_837">
     <path d="M 188.70625 446.735125 
L 304.48 446.735125 
Q 306.08 446.735125 306.08 445.135125 
L 306.08 381.88 
Q 306.08 380.28 304.48 380.28 
L 188.70625 380.28 
Q 187.10625 380.28 187.10625 381.88 
L 187.10625 445.135125 
Q 187.10625 446.735125 188.70625 446.735125 
z
" style="fill: #ffffff; stroke: #cccccc; stroke-linejoin: miter"/>
    </g>
<defs><clipPath id="legclip_837"><path d="M 188.70625 446.735125 
L 304.48 446.735125 
Q 306.08 446.735125 306.08 445.135125 
L 306.08 381.88 
Q 306.08 380.28 304.48 380.28 
L 188.70625 380.28 
Q 187.10625 380.28 187.10625 381.88 
L 187.10625 445.135125 
Q 187.10625 446.735125 188.70625 446.735125 
z
"/></clipPath></defs>
<path d="M 130.56 384.72 
L 134.251221 384.532934 
L 137.891013 384.559864 
L 141.473183 384.794877 
L 144.992948 385.231593 
L 148.445525 385.863632 
L 151.82613 386.684617 
L 155.129979 387.688167 
L 158.35229 388.867903 
L 161.488278 390.217448 
L 164.53316 391.730421 
L 167.482152 393.400443 
L 170.330472 395.221136 
L 173.742528 397.69908 
L 176.987893 400.388787 
L 180.068461 403.275937 
L 182.986206 406.346194 
L 185.743103 409.58522 
L 188.341127 412.978681 
L 190.782254 416.512241 
L 193.068458 420.171564 
L 195.610185 424.708573 
L 197.935079 429.381264 
L 200.046554 434.164864 
L 201.952362 439.036207 
L 203.951737 444.808863 
L 206.002988 451.496303 
L 208.326654 459.941129 
L 214.856832 484.382019 
L 216.944472 490.957985 
L 218.985848 496.601973 
L 220.935206 501.339903 
L 223.102326 505.970641 
L 225.097506 509.737389 
L 225.52 510.48 
L 233.2 521.36 
L 244.72 531.6 
L 261.36 540.56 
L 289.52 548.24 
L 289.52 548.24 
" clip-path="url(#legclip_837)" style="fill: none; stroke: #ebd3bf; stroke-width: 1.5; stroke-linecap: square"/>
<path d="M 114.28 399.56 
L 117.815628 399.062732 
L 121.323849 398.77445 
L 124.798435 398.69025 
L 128.234546 398.804259 
L 131.627339 399.110606 
L 134.971976 399.603418 
L 138.263614 400.276825 
L 141.497412 401.124955 
L 145.45095 402.421875 
L 149.297095 403.971156 
L 153.026392 405.76133 
L 156.629387 407.780929 
L 160.096644 410.018479 
L 163.421557 412.461593 
L 166.60339 415.095995 
L 169.642136 417.907173 
L 172.53779 420.880617 
L 175.290343 424.001814 
L 177.899791 427.256254 
L 180.842218 431.317029 
L 183.580615 435.524893 
L 186.128904 439.86282 
L 188.505248 444.316234 
L 191.084568 449.638404 
L 193.483429 455.074785 
L 196.041022 461.397957 
L 199.025151 469.416564 
L 202.95631 480.735708 
L 208.777214 497.546137 
L 211.712641 505.323255 
L 214.215688 511.375959 
L 215.2 513.6 
L 232.8 526 
L 250.4 540.4 
L 250.4 540.4 
" clip-path="url(#legclip_837)" style="fill: none; stroke-dasharray: 5.55,2.4; stroke-dashoffset: 0; stroke: #ebd3bf; stroke-width: 1.5"/>

    <g id="text_39">
     <text style="font-size: 10px; font-family: 'Liberation Sans', sans-serif; stroke: #000; stroke-width: 0.080px" transform="translate(204.219687 391.078437)" textLength="84.751" lengthAdjust="spacingAndGlyphs">Bosonic DM Core</text>
     <g transform="translate(215.043125 403.190125)">
      <text>
       <tspan x="0.0359" y="-0.40625" style="font-size: 10px; font-family: 'Liberation Sans', sans-serif; stroke: #000; stroke-width: 0.080px" textLength="3.830" lengthAdjust="spacingAndGlyphs">(</tspan>
       <tspan x="18.0669" y="-0.40625" style="font-size: 10px; font-family: 'Liberation Sans', sans-serif; stroke: #000; stroke-width: 0.080px" textLength="6.312" lengthAdjust="spacingAndGlyphs">≈</tspan>
       
       <tspan x="30.53903" y="-0.40625" style="font-size: 10px; font-family: 'Liberation Sans', sans-serif; stroke: #000; stroke-width: 0.080px" textLength="6.362" lengthAdjust="spacingAndGlyphs">5</tspan>
       <tspan x="36.901335" y="-0.40625" style="font-size: 10px; font-family: 'Liberation Sans', sans-serif; stroke: #000; stroke-width: 0.080px" textLength="9.502" lengthAdjust="spacingAndGlyphs">%</tspan>
       <tspan x="46.4392" y="-0.40625" style="font-size: 10px; font-family: 'Liberation Sans', sans-serif; stroke: #000; stroke-width: 0.080px" textLength="3.830" lengthAdjust="spacingAndGlyphs">)</tspan>
       
       
       
       
       <tspan x="4.0641" y="-0.40625" style="font-size: 10px; font-family: 'Liberation Sans', sans-serif; stroke: #000; stroke-width: 0.080px; font-style: italic" textLength="3.195" lengthAdjust="spacingAndGlyphs">f</tspan>
       <tspan x="7.421875" y="1.234375" style="font-size: 7px; font-family: 'Liberation Sans', sans-serif; stroke: #000; stroke-width: 0.056px; font-style: italic" textLength="4.143" lengthAdjust="spacingAndGlyphs">χ</tspan>
      </text>
     </g>
    </g>
    <g id="line2d_97">
     <path d="M 190.30625 413.968875 
L 198.30625 413.968875 
L 206.30625 413.968875 
" style="fill: none; stroke: #000000; stroke-width: 1.5; stroke-linecap: square"/>
    </g>
    <g id="text_40">
     <text style="font-size: 8px; font-family: 'Liberation Sans', sans-serif; stroke: #000; stroke-width: 0.064px; text-anchor: start" x="212.70625" y="416.768875" transform="rotate(-0 212.70625 416.768875)" textLength="56.430" lengthAdjust="spacingAndGlyphs">pure NS (APR)</text>
    </g>
    <g id="line2d_98">
     <path d="M 190.30625 426.112625 
L 198.30625 426.112625 
L 206.30625 426.112625 
" style="fill: none; stroke-dasharray: 5.55,2.4; stroke-dashoffset: 0; stroke: #000000; stroke-width: 1.5"/>
    </g>
    <g id="text_41">
     <g transform="translate(212.70625 428.912625)">
      <text>
       <tspan x="0.0646" y="-0.921875" style="font-size: 8px; font-family: 'Liberation Sans', sans-serif; stroke: #000; stroke-width: 0.064px; font-style: italic" textLength="7.664" lengthAdjust="spacingAndGlyphs">m</tspan>
       <tspan x="63.4133" y="-0.921875" style="font-size: 8px; font-family: 'Liberation Sans', sans-serif; stroke: #000; stroke-width: 0.064px; font-style: italic" textLength="4.528" lengthAdjust="spacingAndGlyphs">λ</tspan>
       <tspan x="79.833594" y="-0.921875" style="font-size: 8px; font-family: 'Liberation Sans', sans-serif; stroke: #000; stroke-width: 0.064px; font-style: italic" textLength="4.816" lengthAdjust="spacingAndGlyphs">π</tspan>
       <tspan x="7.792969" y="0.390625" style="font-size: 5.6px; font-family: 'Liberation Sans', sans-serif; stroke: #000; stroke-width: 0.045px; font-style: italic" textLength="3.314" lengthAdjust="spacingAndGlyphs">χ</tspan>
       
       <tspan x="14.5340" y="-0.921875" style="font-size: 8px; font-family: 'Liberation Sans', sans-serif; stroke: #000; stroke-width: 0.064px" textLength="5.373" lengthAdjust="spacingAndGlyphs">=</tspan>
       
       <tspan x="23.114844" y="-0.921875" style="font-size: 8px; font-family: 'Liberation Sans', sans-serif; stroke: #000; stroke-width: 0.064px" textLength="5.090" lengthAdjust="spacingAndGlyphs">4</tspan>
       <tspan x="28.204687" y="-0.921875" style="font-size: 8px; font-family: 'Liberation Sans', sans-serif; stroke: #000; stroke-width: 0.064px" textLength="5.090" lengthAdjust="spacingAndGlyphs">0</tspan>
       <tspan x="33.294531" y="-0.921875" style="font-size: 8px; font-family: 'Liberation Sans', sans-serif; stroke: #000; stroke-width: 0.064px" textLength="5.090" lengthAdjust="spacingAndGlyphs">0</tspan>
       
       <tspan x="40.927344" y="-0.921875" style="font-size: 8px; font-family: 'Liberation Sans', sans-serif; stroke: #000; stroke-width: 0.064px" textLength="6.902" lengthAdjust="spacingAndGlyphs">M</tspan>
       <tspan x="47.829687" y="-0.921875" style="font-size: 8px; font-family: 'Liberation Sans', sans-serif; stroke: #000; stroke-width: 0.064px" textLength="4.922" lengthAdjust="spacingAndGlyphs">e</tspan>
       <tspan x="52.751562" y="-0.921875" style="font-size: 8px; font-family: 'Liberation Sans', sans-serif; stroke: #000; stroke-width: 0.064px" textLength="5.473" lengthAdjust="spacingAndGlyphs">V</tspan>
       <tspan x="58.224219" y="-0.921875" style="font-size: 8px; font-family: 'Liberation Sans', sans-serif; stroke: #000; stroke-width: 0.064px" textLength="2.543" lengthAdjust="spacingAndGlyphs">,</tspan>
       
       
       <tspan x="71.2527" y="-0.921875" style="font-size: 8px; font-family: 'Liberation Sans', sans-serif; stroke: #000; stroke-width: 0.064px" textLength="5.373" lengthAdjust="spacingAndGlyphs">=</tspan>
       
      </text>
     </g>
    </g>
    <g id="line2d_99">
     <g>
      <use href="#m303aa0b865" x="198.30625" y="439.071375" style="stroke: #000000; stroke-opacity: 0"/>
     </g>
    </g>
    <g id="text_42">
     <text style="font-size: 8px; font-family: 'Liberation Sans', sans-serif; stroke: #000; stroke-width: 0.064px; text-anchor: start" x="212.70625" y="441.871375" transform="rotate(-0 212.70625 441.871375)" textLength="90.172" lengthAdjust="spacingAndGlyphs">NS + DM inv. mapping</text>
    </g>
   </g>
  </g>
  <g id="axes_6">
   <g id="patch_27">
    <path d="M 42 376.24 
L 310.08 376.24 
L 310.08 336.24 
L 42 336.24 
z
" style="fill: #ffffff"/>
   </g>
   <g id="matplotlib.axis_11">
    <g id="xtick_31">
     <g id="line2d_100">
      <g>
       <use href="#m1504cfccaf" x="72.84" y="376.24" style="stroke: #000000; stroke-width: 0.8"/>
      </g>
     </g>
    </g>
    <g id="xtick_32">
     <g id="line2d_101">
      <g>
       <use href="#m1504cfccaf" x="110.333333" y="376.24" style="stroke: #000000; stroke-width: 0.8"/>
      </g>
     </g>
    </g>
    <g id="xtick_33">
     <g id="line2d_102">
      <g>
       <use href="#m1504cfccaf" x="147.826667" y="376.24" style="stroke: #000000; stroke-width: 0.8"/>
      </g>
     </g>
    </g>
    <g id="xtick_34">
     <g id="line2d_103">
      <g>
       <use href="#m1504cfccaf" x="185.32" y="376.24" style="stroke: #000000; stroke-width: 0.8"/>
      </g>
     </g>
    </g>
    <g id="xtick_35">
     <g id="line2d_104">
      <g>
       <use href="#m1504cfccaf" x="222.813333" y="376.24" style="stroke: #000000; stroke-width: 0.8"/>
      </g>
     </g>
    </g>
    <g id="xtick_36">
     <g id="line2d_105">
      <g>
       <use href="#m1504cfccaf" x="260.306667" y="376.24" style="stroke: #000000; stroke-width: 0.8"/>
      </g>
     </g>
    </g>
    <g id="xtick_37">
     <g id="line2d_106">
      <g>
       <use href="#m1504cfccaf" x="297.8" y="376.24" style="stroke: #000000; stroke-width: 0.8"/>
      </g>
     </g>
    </g>
   </g>
   <g id="matplotlib.axis_12">
    <g id="ytick_20">
     <g id="line2d_107">
      <g>
       <use href="#m5d545ce8f8" x="42" y="367.2" style="stroke: #000000; stroke-width: 0.8"/>
      </g>
     </g>
     <g id="text_43">
      <text style="font-size: 10px; font-family: 'Liberation Sans', sans-serif; stroke: #000; stroke-width: 0.080px; text-anchor: end" x="35" y="370.999219" transform="rotate(-0 35 370.999219)" textLength="6.362" lengthAdjust="spacingAndGlyphs">0</text>
     </g>
    </g>
    <g id="ytick_21">
     <g id="line2d_108">
      <g>
       <use href="#m5d545ce8f8" x="42" y="350.8" style="stroke: #000000; stroke-width: 0.8"/>
      </g>
     </g>
     <g id="text_44">
      <text style="font-size: 10px; font-family: 'Liberation Sans', sans-serif; stroke: #000; stroke-width: 0.080px; text-anchor: end" x="35" y="354.599219" transform="rotate(-0 35 354.599219)" textLength="6.362" lengthAdjust="spacingAndGlyphs">1</text>
     </g>
    </g>
    <g id="text_45">
     <g transform="translate(22.557812 388.44) rotate(-90)">
      <text>
       <tspan x="0" y="-0.40625" style="font-size: 10px; font-family: 'Liberation Sans', sans-serif; stroke: #000; stroke-width: 0.080px" textLength="7.700" lengthAdjust="spacingAndGlyphs">D</tspan>
       <tspan x="7.700195" y="-0.40625" style="font-size: 10px; font-family: 'Liberation Sans', sans-serif; stroke: #000; stroke-width: 0.080px" textLength="6.152" lengthAdjust="spacingAndGlyphs">e</tspan>
       <tspan x="13.9365" y="-0.40625" style="font-size: 10px; font-family: 'Liberation Sans', sans-serif; stroke: #000; stroke-width: 0.080px" textLength="5.750" lengthAdjust="spacingAndGlyphs">v</tspan>
       <tspan x="19.8064" y="-0.40625" style="font-size: 10px; font-family: 'Liberation Sans', sans-serif; stroke: #000; stroke-width: 0.080px" textLength="3.830" lengthAdjust="spacingAndGlyphs">(</tspan>
       <tspan x="40.0383" y="-0.40625" style="font-size: 10px; font-family: 'Liberation Sans', sans-serif; stroke: #000; stroke-width: 0.080px" textLength="3.830" lengthAdjust="spacingAndGlyphs">)</tspan>
       
       <tspan x="47.1184" y="-0.40625" style="font-size: 10px; font-family: 'Liberation Sans', sans-serif; stroke: #000; stroke-width: 0.080px" textLength="3.830" lengthAdjust="spacingAndGlyphs">(</tspan>
       <tspan x="50.983887" y="-0.40625" style="font-size: 10px; font-family: 'Liberation Sans', sans-serif; stroke: #000; stroke-width: 0.080px" textLength="9.502" lengthAdjust="spacingAndGlyphs">%</tspan>
       <tspan x="60.5217" y="-0.40625" style="font-size: 10px; font-family: 'Liberation Sans', sans-serif; stroke: #000; stroke-width: 0.080px" textLength="3.830" lengthAdjust="spacingAndGlyphs">)</tspan>
       <tspan x="23.671875" y="-0.40625" style="font-size: 10px; font-family: 'Liberation Sans', sans-serif; stroke: #000; stroke-width: 0.080px; font-style: italic" textLength="6.948" lengthAdjust="spacingAndGlyphs">R</tspan>
       <tspan x="30.620117" y="1.234375" style="font-size: 7px; font-family: 'Liberation Sans', sans-serif; stroke: #000; stroke-width: 0.056px; font-style: italic" textLength="4.802" lengthAdjust="spacingAndGlyphs">B</tspan>
       <tspan x="35.422363" y="1.234375" style="font-size: 7px; font-family: 'Liberation Sans', sans-serif; stroke: #000; stroke-width: 0.056px; font-style: italic" textLength="4.307" lengthAdjust="spacingAndGlyphs">e</tspan>
      </text>
     </g>
    </g>
   </g>
   <g id="patch_28">
    <path d="M 42 376.24 
L 42 336.24 
" style="fill: none; stroke: #000000; stroke-width: 0.8; stroke-linejoin: miter; stroke-linecap: square"/>
   </g>
   <g id="patch_29">
    <path d="M 310.08 376.24 
L 310.08 336.24 
" style="fill: none; stroke: #000000; stroke-width: 0.8; stroke-linejoin: miter; stroke-linecap: square"/>
   </g>
   <g id="patch_30">
    <path d="M 42 376.24 
L 310.08 376.24 
" style="fill: none; stroke: #000000; stroke-width: 0.8; stroke-linejoin: miter; stroke-linecap: square"/>
   </g>
   <g id="patch_31">
    <path d="M 42 336.24 
L 310.08 336.24 
" style="fill: none; stroke: #000000; stroke-width: 0.8; stroke-linejoin: miter; stroke-linecap: square"/>
   </g>
   <g id="line2d_109">
    <g clip-path="url(#pc318a3d3c4)">
     <use href="#mb5287e0153" x="81.6" y="356.56" style="fill: #ffa500; stroke: #000000; stroke-opacity: 0"/>
     <use href="#mb5287e0153" x="89.28" y="357.32" style="fill: #ffa500; stroke: #000000; stroke-opacity: 0"/>
     <use href="#mb5287e0153" x="97.92" y="358.76" style="fill: #ffa500; stroke: #000000; stroke-opacity: 0"/>
     <use href="#mb5287e0153" x="107.24" y="360.68" style="fill: #ffa500; stroke: #000000; stroke-opacity: 0"/>
     <use href="#mb5287e0153" x="117.12" y="363.28" style="fill: #ffa500; stroke: #000000; stroke-opacity: 0"/>
     <use href="#mb5287e0153" x="126.04" y="366.16" style="fill: #ffa500; stroke: #000000; stroke-opacity: 0"/>
     <use href="#mb5287e0153" x="132.96" y="367.88" style="fill: #ffa500; stroke: #000000; stroke-opacity: 0"/>
     <use href="#mb5287e0153" x="136.8" y="370.2" style="fill: #ffa500; stroke: #000000; stroke-opacity: 0"/>
     <use href="#mb5287e0153" x="139.2" y="371.64" style="fill: #ffa500; stroke: #000000; stroke-opacity: 0"/>
     <use href="#mb5287e0153" x="156.96" y="371.92" style="fill: #ffa500; stroke: #000000; stroke-opacity: 0"/>
    </g>
   </g>
   <g id="line2d_110">
    <g clip-path="url(#pc318a3d3c4)">
     <use href="#mbd43150556" x="95.72" y="346.48" style="fill: #008000; stroke: #000000; stroke-opacity: 0"/>
     <use href="#mbd43150556" x="104.64" y="348.6" style="fill: #008000; stroke: #000000; stroke-opacity: 0"/>
     <use href="#mbd43150556" x="114.52" y="351.28" style="fill: #008000; stroke: #000000; stroke-opacity: 0"/>
     <use href="#mbd43150556" x="125.56" y="354.92" style="fill: #008000; stroke: #000000; stroke-opacity: 0"/>
     <use href="#mbd43150556" x="137.56" y="359.92" style="fill: #008000; stroke: #000000; stroke-opacity: 0"/>
     <use href="#mbd43150556" x="149.08" y="365" style="fill: #008000; stroke: #000000; stroke-opacity: 0"/>
     <use href="#mbd43150556" x="159.08" y="368.08" style="fill: #008000; stroke: #000000; stroke-opacity: 0"/>
     <use href="#mbd43150556" x="166.56" y="371.76" style="fill: #008000; stroke: #000000; stroke-opacity: 0"/>
     <use href="#mbd43150556" x="171.36" y="374.12" style="fill: #008000; stroke: #000000; stroke-opacity: 0"/>
     <use href="#mbd43150556" x="196" y="373.76" style="fill: #008000; stroke: #000000; stroke-opacity: 0"/>
    </g>
   </g>
   <g id="line2d_111">
    <g clip-path="url(#pc318a3d3c4)">
     <use href="#m608933609a" x="113.76" y="338.04" style="fill: #ff0000; stroke: #000000; stroke-opacity: 0"/>
     <use href="#m608933609a" x="124.32" y="341.96" style="fill: #ff0000; stroke: #000000; stroke-opacity: 0"/>
     <use href="#m608933609a" x="136.32" y="346.68" style="fill: #ff0000; stroke: #000000; stroke-opacity: 0"/>
     <use href="#m608933609a" x="149.76" y="352.24" style="fill: #ff0000; stroke: #000000; stroke-opacity: 0"/>
     <use href="#m608933609a" x="164.32" y="359.36" style="fill: #ff0000; stroke: #000000; stroke-opacity: 0"/>
     <use href="#m608933609a" x="179.2" y="365.68" style="fill: #ff0000; stroke: #000000; stroke-opacity: 0"/>
     <use href="#m608933609a" x="193.44" y="368.16" style="fill: #ff0000; stroke: #000000; stroke-opacity: 0"/>
     <use href="#m608933609a" x="207.24" y="370.96" style="fill: #ff0000; stroke: #000000; stroke-opacity: 0"/>
     <use href="#m608933609a" x="215.84" y="373.76" style="fill: #ff0000; stroke: #000000; stroke-opacity: 0"/>
     <use href="#m608933609a" x="251.12" y="370.4" style="fill: #ff0000; stroke: #000000; stroke-opacity: 0"/>
    </g>
   </g>
  </g>
  <g id="axes_7">
   <g id="patch_32">
    <path d="M 42 602.56 
L 310.08 602.56 
L 310.08 562.64 
L 42 562.64 
z
" style="fill: #ffffff"/>
   </g>
   <g id="matplotlib.axis_13">
    <g id="xtick_38">
     <g id="line2d_112">
      <g>
       <use href="#m1504cfccaf" x="72.84" y="602.56" style="stroke: #000000; stroke-width: 0.8"/>
      </g>
     </g>
     <g id="text_46">
      <text style="font-size: 10px; font-family: 'Liberation Sans', sans-serif; stroke: #000; stroke-width: 0.080px; text-anchor: middle" x="72.84" y="617.158437" transform="rotate(-0 72.84 617.158437)" textLength="12.725" lengthAdjust="spacingAndGlyphs">10</text>
     </g>
    </g>
    <g id="xtick_39">
     <g id="line2d_113">
      <g>
       <use href="#m1504cfccaf" x="110.333333" y="602.56" style="stroke: #000000; stroke-width: 0.8"/>
      </g>
     </g>
     <g id="text_47">
      <text style="font-size: 10px; font-family: 'Liberation Sans', sans-serif; stroke: #000; stroke-width: 0.080px; text-anchor: middle" x="110.333333" y="617.158437" transform="rotate(-0 110.333333 617.158437)" textLength="12.725" lengthAdjust="spacingAndGlyphs">11</text>
     </g>
    </g>
    <g id="xtick_40">
     <g id="line2d_114">
      <g>
       <use href="#m1504cfccaf" x="147.826667" y="602.56" style="stroke: #000000; stroke-width: 0.8"/>
      </g>
     </g>
     <g id="text_48">
      <text style="font-size: 10px; font-family: 'Liberation Sans', sans-serif; stroke: #000; stroke-width: 0.080px; text-anchor: middle" x="147.826667" y="617.158437" transform="rotate(-0 147.826667 617.158437)" textLength="12.725" lengthAdjust="spacingAndGlyphs">12</text>
     </g>
    </g>
    <g id="xtick_41">
     <g id="line2d_115">
      <g>
       <use href="#m1504cfccaf" x="185.32" y="602.56" style="stroke: #000000; stroke-width: 0.8"/>
      </g>
     </g>
     <g id="text_49">
      <text style="font-size: 10px; font-family: 'Liberation Sans', sans-serif; stroke: #000; stroke-width: 0.080px; text-anchor: middle" x="185.32" y="617.158437" transform="rotate(-0 185.32 617.158437)" textLength="12.725" lengthAdjust="spacingAndGlyphs">13</text>
     </g>
    </g>
    <g id="xtick_42">
     <g id="line2d_116">
      <g>
       <use href="#m1504cfccaf" x="222.813333" y="602.56" style="stroke: #000000; stroke-width: 0.8"/>
      </g>
     </g>
     <g id="text_50">
      <text style="font-size: 10px; font-family: 'Liberation Sans', sans-serif; stroke: #000; stroke-width: 0.080px; text-anchor: middle" x="222.813333" y="617.158437" transform="rotate(-0 222.813333 617.158437)" textLength="12.725" lengthAdjust="spacingAndGlyphs">14</text>
     </g>
    </g>
    <g id="xtick_43">
     <g id="line2d_117">
      <g>
       <use href="#m1504cfccaf" x="260.306667" y="602.56" style="stroke: #000000; stroke-width: 0.8"/>
      </g>
     </g>
     <g id="text_51">
      <text style="font-size: 10px; font-family: 'Liberation Sans', sans-serif; stroke: #000; stroke-width: 0.080px; text-anchor: middle" x="260.306667" y="617.158437" transform="rotate(-0 260.306667 617.158437)" textLength="12.725" lengthAdjust="spacingAndGlyphs">15</text>
     </g>
    </g>
    <g id="xtick_44">
     <g id="line2d_118">
      <g>
       <use href="#m1504cfccaf" x="297.8" y="602.56" style="stroke: #000000; stroke-width: 0.8"/>
      </g>
     </g>
     <g id="text_52">
      <text style="font-size: 10px; font-family: 'Liberation Sans', sans-serif; stroke: #000; stroke-width: 0.080px; text-anchor: middle" x="297.8" y="617.158437" transform="rotate(-0 297.8 617.158437)" textLength="12.725" lengthAdjust="spacingAndGlyphs">16</text>
     </g>
    </g>
    <g id="text_53">
     <g transform="translate(143.865 634.635781)">
      <text>
       <tspan x="0" y="-0.609375" style="font-size: 15px; font-family: 'Liberation Sans', sans-serif; stroke: #000; stroke-width: 0.120px; font-style: italic" textLength="10.422" lengthAdjust="spacingAndGlyphs">R</tspan>
       <tspan x="10.422363" y="1.851562" style="font-size: 10.5px; font-family: 'Liberation Sans', sans-serif; stroke: #000; stroke-width: 0.084px; font-style: italic" textLength="7.203" lengthAdjust="spacingAndGlyphs">B</tspan>
       <tspan x="17.625732" y="1.851562" style="font-size: 10.5px; font-family: 'Liberation Sans', sans-serif; stroke: #000; stroke-width: 0.084px; font-style: italic" textLength="6.460" lengthAdjust="spacingAndGlyphs">e</tspan>
       
       <tspan x="29.7937" y="-0.609375" style="font-size: 15px; font-family: 'Liberation Sans', sans-serif; stroke: #000; stroke-width: 0.120px" textLength="4.793" lengthAdjust="spacingAndGlyphs">[</tspan>
       <tspan x="35.1468" y="-0.609375" style="font-size: 15px; font-family: 'Liberation Sans', sans-serif; stroke: #000; stroke-width: 0.120px" textLength="8.625" lengthAdjust="spacingAndGlyphs">k</tspan>
       <tspan x="43.9237" y="-0.609375" style="font-size: 15px; font-family: 'Liberation Sans', sans-serif; stroke: #000; stroke-width: 0.120px" textLength="14.370" lengthAdjust="spacingAndGlyphs">m</tspan>
       <tspan x="58.9441" y="-0.609375" style="font-size: 15px; font-family: 'Liberation Sans', sans-serif; stroke: #000; stroke-width: 0.120px" textLength="4.793" lengthAdjust="spacingAndGlyphs">]</tspan>
      </text>
     </g>
    </g>
   </g>
   <g id="matplotlib.axis_14">
    <g id="ytick_22">
     <g id="line2d_119">
      <g>
       <use href="#m5d545ce8f8" x="42" y="600.8" style="stroke: #000000; stroke-width: 0.8"/>
      </g>
     </g>
     <g id="text_54">
      <text style="font-size: 10px; font-family: 'Liberation Sans', sans-serif; stroke: #000; stroke-width: 0.080px; text-anchor: end" x="35" y="604.599219" transform="rotate(-0 35 604.599219)" textLength="6.362" lengthAdjust="spacingAndGlyphs">0</text>
     </g>
    </g>
    <g id="ytick_23">
     <g id="line2d_120">
      <g>
       <use href="#m5d545ce8f8" x="42" y="571.6" style="stroke: #000000; stroke-width: 0.8"/>
      </g>
     </g>
     <g id="text_55">
      <text style="font-size: 10px; font-family: 'Liberation Sans', sans-serif; stroke: #000; stroke-width: 0.080px; text-anchor: end" x="35" y="575.399219" transform="rotate(-0 35 575.399219)" textLength="6.362" lengthAdjust="spacingAndGlyphs">1</text>
     </g>
    </g>
    <g id="text_56">
     <g transform="translate(11.36 612.17296) rotate(-90)">
      <text>
       <tspan x="0" y="-0.40625" style="font-size: 10px; font-family: 'Liberation Sans', sans-serif; stroke: #000; stroke-width: 0.080px" textLength="7.700" lengthAdjust="spacingAndGlyphs">D</tspan>
       <tspan x="7.700195" y="-0.40625" style="font-size: 10px; font-family: 'Liberation Sans', sans-serif; stroke: #000; stroke-width: 0.080px" textLength="6.152" lengthAdjust="spacingAndGlyphs">e</tspan>
       <tspan x="13.9365" y="-0.40625" style="font-size: 10px; font-family: 'Liberation Sans', sans-serif; stroke: #000; stroke-width: 0.080px" textLength="5.750" lengthAdjust="spacingAndGlyphs">v</tspan>
       <tspan x="19.8064" y="-0.40625" style="font-size: 10px; font-family: 'Liberation Sans', sans-serif; stroke: #000; stroke-width: 0.080px" textLength="3.830" lengthAdjust="spacingAndGlyphs">(</tspan>
       <tspan x="51.8713" y="-0.40625" style="font-size: 10px; font-family: 'Liberation Sans', sans-serif; stroke: #000; stroke-width: 0.080px" textLength="3.830" lengthAdjust="spacingAndGlyphs">)</tspan>
       
       
       <tspan x="23.671875" y="-0.40625" style="font-size: 10px; font-family: 'Liberation Sans', sans-serif; stroke: #000; stroke-width: 0.080px; font-style: italic" textLength="6.948" lengthAdjust="spacingAndGlyphs">R</tspan>
       <tspan x="30.7187" y="1.234375" style="font-size: 7px; font-family: 'Liberation Sans', sans-serif; stroke: #000; stroke-width: 0.056px; font-style: italic" textLength="2.681" lengthAdjust="spacingAndGlyphs">r</tspan>
       <tspan x="33.498047" y="1.234375" style="font-size: 7px; font-family: 'Liberation Sans', sans-serif; stroke: #000; stroke-width: 0.056px; font-style: italic" textLength="4.290" lengthAdjust="spacingAndGlyphs">a</tspan>
       <tspan x="38.0417" y="1.234375" style="font-size: 7px; font-family: 'Liberation Sans', sans-serif; stroke: #000; stroke-width: 0.056px; font-style: italic" textLength="2.237" lengthAdjust="spacingAndGlyphs">t</tspan>
       <tspan x="40.6104" y="1.234375" style="font-size: 7px; font-family: 'Liberation Sans', sans-serif; stroke: #000; stroke-width: 0.056px; font-style: italic" textLength="1.788" lengthAdjust="spacingAndGlyphs">i</tspan>
       <tspan x="42.477051" y="1.234375" style="font-size: 7px; font-family: 'Liberation Sans', sans-serif; stroke: #000; stroke-width: 0.056px; font-style: italic" textLength="4.283" lengthAdjust="spacingAndGlyphs">o</tspan>
       <tspan x="46.759766" y="1.234375" style="font-size: 7px; font-family: 'Liberation Sans', sans-serif; stroke: #000; stroke-width: 0.056px; font-style: italic" textLength="4.802" lengthAdjust="spacingAndGlyphs">B</tspan>
      </text>
     </g>
     <text style="font-size: 10px; font-family: 'Liberation Sans', sans-serif; stroke: #000; stroke-width: 0.080px" transform="translate(22.557812 589.775304) rotate(-90)" textLength="17.305" lengthAdjust="spacingAndGlyphs">(%)</text>
    </g>
   </g>
   <g id="patch_33">
    <path d="M 42 602.56 
L 42 562.64 
" style="fill: none; stroke: #000000; stroke-width: 0.8; stroke-linejoin: miter; stroke-linecap: square"/>
   </g>
   <g id="patch_34">
    <path d="M 310.08 602.56 
L 310.08 562.64 
" style="fill: none; stroke: #000000; stroke-width: 0.8; stroke-linejoin: miter; stroke-linecap: square"/>
   </g>
   <g id="patch_35">
    <path d="M 42 602.56 
L 310.08 602.56 
" style="fill: none; stroke: #000000; stroke-width: 0.8; stroke-linejoin: miter; stroke-linecap: square"/>
   </g>
   <g id="patch_36">
    <path d="M 42 562.64 
L 310.08 562.64 
" style="fill: none; stroke: #000000; stroke-width: 0.8; stroke-linejoin: miter; stroke-linecap: square"/>
   </g>
   <g id="line2d_121">
    <g clip-path="url(#p014e2a0336)">
     <use href="#m7065debe32" x="113.76" y="591.48" style="fill: #ff0000; stroke: #000000; stroke-opacity: 0"/>
     <use href="#m7065debe32" x="124.32" y="589.76" style="fill: #ff0000; stroke: #000000; stroke-opacity: 0"/>
     <use href="#m7065debe32" x="136.32" y="586.6" style="fill: #ff0000; stroke: #000000; stroke-opacity: 0"/>
     <use href="#m7065debe32" x="149.76" y="582.08" style="fill: #ff0000; stroke: #000000; stroke-opacity: 0"/>
     <use href="#m7065debe32" x="164.32" y="575.92" style="fill: #ff0000; stroke: #000000; stroke-opacity: 0"/>
     <use href="#m7065debe32" x="179.2" y="568.64" style="fill: #ff0000; stroke: #000000; stroke-opacity: 0"/>
     <use href="#m7065debe32" x="193.44" y="564.48" style="fill: #ff0000; stroke: #000000; stroke-opacity: 0"/>
     <use href="#m7065debe32" x="207.24" y="571.52" style="fill: #ff0000; stroke: #000000; stroke-opacity: 0"/>
     <use href="#m7065debe32" x="215.84" y="578.24" style="fill: #ff0000; stroke: #000000; stroke-opacity: 0"/>
     <use href="#m7065debe32" x="251.12" y="586.56" style="fill: #ff0000; stroke: #000000; stroke-opacity: 0"/>
    </g>
   </g>
   <g id="line2d_122">
    <g clip-path="url(#p014e2a0336)">
     <use href="#mb2c00d230b" x="95.72" y="591.48" style="fill: #008000; stroke: #000000; stroke-opacity: 0"/>
     <use href="#mb2c00d230b" x="104.64" y="589.56" style="fill: #008000; stroke: #000000; stroke-opacity: 0"/>
     <use href="#mb2c00d230b" x="114.52" y="586.6" style="fill: #008000; stroke: #000000; stroke-opacity: 0"/>
     <use href="#mb2c00d230b" x="125.56" y="582.08" style="fill: #008000; stroke: #000000; stroke-opacity: 0"/>
     <use href="#mb2c00d230b" x="137.56" y="575.84" style="fill: #008000; stroke: #000000; stroke-opacity: 0"/>
     <use href="#mb2c00d230b" x="149.08" y="568.64" style="fill: #008000; stroke: #000000; stroke-opacity: 0"/>
     <use href="#mb2c00d230b" x="159.08" y="564.52" style="fill: #008000; stroke: #000000; stroke-opacity: 0"/>
     <use href="#mb2c00d230b" x="166.56" y="571.52" style="fill: #008000; stroke: #000000; stroke-opacity: 0"/>
     <use href="#mb2c00d230b" x="171.36" y="578.24" style="fill: #008000; stroke: #000000; stroke-opacity: 0"/>
     <use href="#mb2c00d230b" x="196" y="586.56" style="fill: #008000; stroke: #000000; stroke-opacity: 0"/>
    </g>
   </g>
   <g id="line2d_123">
    <g clip-path="url(#p014e2a0336)">
     <use href="#m5095036b6d" x="81.6" y="591.68" style="fill: #ffa500; stroke: #000000; stroke-opacity: 0"/>
     <use href="#m5095036b6d" x="89.28" y="589.76" style="fill: #ffa500; stroke: #000000; stroke-opacity: 0"/>
     <use href="#m5095036b6d" x="97.92" y="586.6" style="fill: #ffa500; stroke: #000000; stroke-opacity: 0"/>
     <use href="#m5095036b6d" x="107.24" y="582.08" style="fill: #ffa500; stroke: #000000; stroke-opacity: 0"/>
     <use href="#m5095036b6d" x="117.12" y="575.84" style="fill: #ffa500; stroke: #000000; stroke-opacity: 0"/>
     <use href="#m5095036b6d" x="126.04" y="568.64" style="fill: #ffa500; stroke: #000000; stroke-opacity: 0"/>
     <use href="#m5095036b6d" x="133.16" y="564.6" style="fill: #ffa500; stroke: #000000; stroke-opacity: 0"/>
     <use href="#m5095036b6d" x="136.8" y="571.72" style="fill: #ffa500; stroke: #000000; stroke-opacity: 0"/>
     <use href="#m5095036b6d" x="139.2" y="578.24" style="fill: #ffa500; stroke: #000000; stroke-opacity: 0"/>
     <use href="#m5095036b6d" x="157.04" y="586.56" style="fill: #ffa500; stroke: #000000; stroke-opacity: 0"/>
    </g>
   </g>
  </g>
  <g id="axes_8">
   <g id="patch_37">
    <path d="M 310.08 562.76 
L 399.52 562.76 
L 399.52 376.28 
L 310.08 376.28 
z
" style="fill: #ffffff"/>
   </g>
   <g id="matplotlib.axis_15">
    <g id="xtick_45">
     <g id="line2d_124">
      <g>
       <use href="#m1504cfccaf" x="325.28" y="562.76" style="stroke: #000000; stroke-width: 0.8"/>
      </g>
     </g>
     <g id="text_57">
      <text style="font-size: 10px; font-family: 'Liberation Sans', sans-serif; stroke: #000; stroke-width: 0.080px; text-anchor: middle" x="325.28" y="577.358437" transform="rotate(-0 325.28 577.358437)" textLength="15.903" lengthAdjust="spacingAndGlyphs">0.0</text>
     </g>
    </g>
    <g id="xtick_46">
     <g id="line2d_125">
      <g>
       <use href="#m1504cfccaf" x="374.24" y="562.76" style="stroke: #000000; stroke-width: 0.8"/>
      </g>
     </g>
     <g id="text_58">
      <text style="font-size: 10px; font-family: 'Liberation Sans', sans-serif; stroke: #000; stroke-width: 0.080px; text-anchor: middle" x="374.24" y="577.358437" transform="rotate(-0 374.24 577.358437)" textLength="15.903" lengthAdjust="spacingAndGlyphs">2.5</text>
     </g>
    </g>
    <g id="text_59">
     <g transform="translate(328.45 591.036562)">
      <text>
       <tspan x="0" y="-0.40625" style="font-size: 10px; font-family: 'Liberation Sans', sans-serif; stroke: #000; stroke-width: 0.080px" textLength="7.700" lengthAdjust="spacingAndGlyphs">D</tspan>
       <tspan x="7.700195" y="-0.40625" style="font-size: 10px; font-family: 'Liberation Sans', sans-serif; stroke: #000; stroke-width: 0.080px" textLength="6.152" lengthAdjust="spacingAndGlyphs">e</tspan>
       <tspan x="13.9365" y="-0.40625" style="font-size: 10px; font-family: 'Liberation Sans', sans-serif; stroke: #000; stroke-width: 0.080px" textLength="5.750" lengthAdjust="spacingAndGlyphs">v</tspan>
       <tspan x="19.8064" y="-0.40625" style="font-size: 10px; font-family: 'Liberation Sans', sans-serif; stroke: #000; stroke-width: 0.080px" textLength="3.830" lengthAdjust="spacingAndGlyphs">(</tspan>
       <tspan x="42.3811" y="-0.40625" style="font-size: 10px; font-family: 'Liberation Sans', sans-serif; stroke: #000; stroke-width: 0.080px" textLength="3.830" lengthAdjust="spacingAndGlyphs">)</tspan>
       
       
       <tspan x="23.671875" y="-0.40625" style="font-size: 10px; font-family: 'Liberation Sans', sans-serif; stroke: #000; stroke-width: 0.080px; font-style: italic" textLength="8.628" lengthAdjust="spacingAndGlyphs">M</tspan>
       <tspan x="32.5539" y="1.234375" style="font-size: 7px; font-family: 'Liberation Sans', sans-serif; stroke: #000; stroke-width: 0.056px; font-style: italic" textLength="2.237" lengthAdjust="spacingAndGlyphs">t</tspan>
       <tspan x="35.044434" y="1.234375" style="font-size: 7px; font-family: 'Liberation Sans', sans-serif; stroke: #000; stroke-width: 0.056px; font-style: italic" textLength="4.283" lengthAdjust="spacingAndGlyphs">o</tspan>
       <tspan x="39.5812" y="1.234375" style="font-size: 7px; font-family: 'Liberation Sans', sans-serif; stroke: #000; stroke-width: 0.056px; font-style: italic" textLength="2.237" lengthAdjust="spacingAndGlyphs">t</tspan>
      </text>
     </g>
     <text style="font-size: 10px; font-family: 'Liberation Sans', sans-serif; stroke: #000; stroke-width: 0.080px" transform="translate(346.147656 602.234375)" textLength="17.305" lengthAdjust="spacingAndGlyphs">(%)</text>
    </g>
   </g>
   <g id="matplotlib.axis_16">
    <g id="ytick_24">
     <g id="line2d_126">
      <g>
       <use href="#m5d545ce8f8" x="310.08" y="538.72" style="stroke: #000000; stroke-width: 0.8"/>
      </g>
     </g>
    </g>
    <g id="ytick_25">
     <g id="line2d_127">
      <g>
       <use href="#m5d545ce8f8" x="310.08" y="500.18" style="stroke: #000000; stroke-width: 0.8"/>
      </g>
     </g>
    </g>
    <g id="ytick_26">
     <g id="line2d_128">
      <g>
       <use href="#m5d545ce8f8" x="310.08" y="461.64" style="stroke: #000000; stroke-width: 0.8"/>
      </g>
     </g>
    </g>
    <g id="ytick_27">
     <g id="line2d_129">
      <g>
       <use href="#m5d545ce8f8" x="310.08" y="423.1" style="stroke: #000000; stroke-width: 0.8"/>
      </g>
     </g>
    </g>
    <g id="ytick_28">
     <g id="line2d_130">
      <g>
       <use href="#m5d545ce8f8" x="310.08" y="384.56" style="stroke: #000000; stroke-width: 0.8"/>
      </g>
     </g>
    </g>
   </g>
   <g id="patch_38">
    <path d="M 310.08 562.76 
L 310.08 376.28 
" style="fill: none; stroke: #000000; stroke-width: 0.8; stroke-linejoin: miter; stroke-linecap: square"/>
   </g>
   <g id="patch_39">
    <path d="M 399.52 562.76 
L 399.52 376.28 
" style="fill: none; stroke: #000000; stroke-width: 0.8; stroke-linejoin: miter; stroke-linecap: square"/>
   </g>
   <g id="patch_40">
    <path d="M 310.08 562.76 
L 399.52 562.76 
" style="fill: none; stroke: #000000; stroke-width: 0.8; stroke-linejoin: miter; stroke-linecap: square"/>
   </g>
   <g id="patch_41">
    <path d="M 310.08 376.28 
L 399.52 376.28 
" style="fill: none; stroke: #000000; stroke-width: 0.8; stroke-linejoin: miter; stroke-linecap: square"/>
   </g>
   <g id="line2d_131">
    <g clip-path="url(#p24d2a62e6e)">
     <use href="#mb5287e0153" x="346.92" y="409.32" style="fill: #ffa500; stroke: #000000; stroke-opacity: 0"/>
     <use href="#mb5287e0153" x="341.96" y="410.04" style="fill: #ffa500; stroke: #000000; stroke-opacity: 0"/>
     <use href="#mb5287e0153" x="337" y="412.44" style="fill: #ffa500; stroke: #000000; stroke-opacity: 0"/>
     <use href="#mb5287e0153" x="332.32" y="417.24" style="fill: #ffa500; stroke: #000000; stroke-opacity: 0"/>
     <use href="#mb5287e0153" x="328.64" y="426.12" style="fill: #ffa500; stroke: #000000; stroke-opacity: 0"/>
     <use href="#mb5287e0153" x="326.64" y="441.72" style="fill: #ffa500; stroke: #000000; stroke-opacity: 0"/>
     <use href="#mb5287e0153" x="325.12" y="466.64" style="fill: #ffa500; stroke: #000000; stroke-opacity: 0"/>
     <use href="#mb5287e0153" x="319.72" y="503.36" style="fill: #ffa500; stroke: #000000; stroke-opacity: 0"/>
     <use href="#mb5287e0153" x="316.12" y="519.92" style="fill: #ffa500; stroke: #000000; stroke-opacity: 0"/>
     <use href="#mb5287e0153" x="314.52" y="543.6" style="fill: #ffa500; stroke: #000000; stroke-opacity: 0"/>
    </g>
   </g>
   <g id="line2d_132">
    <g clip-path="url(#p24d2a62e6e)">
     <use href="#mbd43150556" x="374.36" y="403.28" style="fill: #008000; stroke: #000000; stroke-opacity: 0"/>
     <use href="#mbd43150556" x="363.84" y="403.44" style="fill: #008000; stroke: #000000; stroke-opacity: 0"/>
     <use href="#mbd43150556" x="353.4" y="405.24" style="fill: #008000; stroke: #000000; stroke-opacity: 0"/>
     <use href="#mbd43150556" x="344.04" y="409.92" style="fill: #008000; stroke: #000000; stroke-opacity: 0"/>
     <use href="#mbd43150556" x="337.2" y="418.56" style="fill: #008000; stroke: #000000; stroke-opacity: 0"/>
     <use href="#mbd43150556" x="334.76" y="434.32" style="fill: #008000; stroke: #000000; stroke-opacity: 0"/>
     <use href="#mbd43150556" x="334.12" y="460.16" style="fill: #008000; stroke: #000000; stroke-opacity: 0"/>
     <use href="#mbd43150556" x="328" y="499.04" style="fill: #008000; stroke: #000000; stroke-opacity: 0"/>
     <use href="#mbd43150556" x="323.24" y="516.8" style="fill: #008000; stroke: #000000; stroke-opacity: 0"/>
     <use href="#mbd43150556" x="324.12" y="542.24" style="fill: #008000; stroke: #000000; stroke-opacity: 0"/>
    </g>
   </g>
   <g id="line2d_133">
    <g clip-path="url(#p24d2a62e6e)">
     <use href="#m608933609a" x="395.52" y="397.16" style="fill: #ff0000; stroke: #000000; stroke-opacity: 0"/>
     <use href="#m608933609a" x="378.4" y="396.52" style="fill: #ff0000; stroke: #000000; stroke-opacity: 0"/>
     <use href="#m608933609a" x="361.92" y="397.6" style="fill: #ff0000; stroke: #000000; stroke-opacity: 0"/>
     <use href="#m608933609a" x="348" y="401.48" style="fill: #ff0000; stroke: #000000; stroke-opacity: 0"/>
     <use href="#m608933609a" x="339.08" y="409.92" style="fill: #ff0000; stroke: #000000; stroke-opacity: 0"/>
     <use href="#m608933609a" x="338.64" y="425.96" style="fill: #ff0000; stroke: #000000; stroke-opacity: 0"/>
     <use href="#m608933609a" x="343.92" y="452.76" style="fill: #ff0000; stroke: #000000; stroke-opacity: 0"/>
     <use href="#m608933609a" x="344.2" y="494.36" style="fill: #ff0000; stroke: #000000; stroke-opacity: 0"/>
     <use href="#m608933609a" x="341.32" y="513.44" style="fill: #ff0000; stroke: #000000; stroke-opacity: 0"/>
     <use href="#m608933609a" x="346.72" y="541.16" style="fill: #ff0000; stroke: #000000; stroke-opacity: 0"/>
    </g>
   </g>
  </g>
 </g>
 <defs>
  <clipPath id="p4665e097e5">
   <rect x="42" y="41.32" width="268.08" height="186.48"/>
  </clipPath>
  <clipPath id="p424a3fc5e8">
   <rect x="42" y="1.36" width="268.08" height="39.96"/>
  </clipPath>
  <clipPath id="p6cc1662a9c">
   <rect x="42" y="227.8" width="268.08" height="40"/>
  </clipPath>
  <clipPath id="p952ec9508e">
   <rect x="310.08" y="41.32" width="89.44" height="186.48"/>
  </clipPath>
  <clipPath id="p1aec967e36">
   <rect x="42" y="376.28" width="268.08" height="186.48"/>
  </clipPath>
  <clipPath id="pc318a3d3c4">
   <rect x="42" y="336.24" width="268.08" height="40"/>
  </clipPath>
  <clipPath id="p014e2a0336">
   <rect x="42" y="562.64" width="268.08" height="39.92"/>
  </clipPath>
  <clipPath id="p24d2a62e6e">
   <rect x="310.08" y="376.28" width="89.44" height="186.48"/>
  </clipPath>
 </defs>
</svg>

</body></html>
